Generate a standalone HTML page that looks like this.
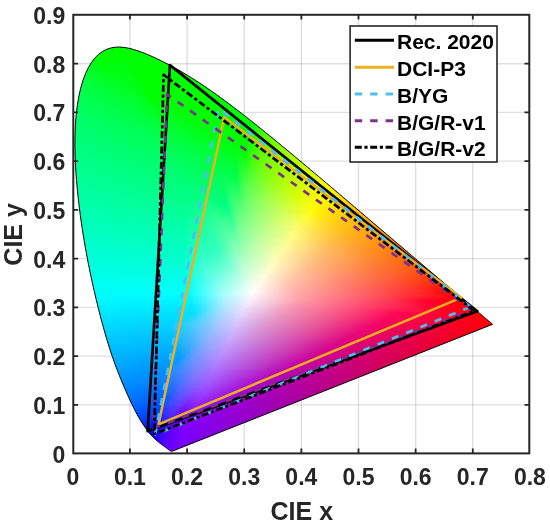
<!DOCTYPE html>
<html><head><meta charset="utf-8"><title>CIE 1931 chromaticity diagram</title>
<style>
html,body{margin:0;padding:0;background:#fff;}
svg{display:block;}
text{font-family:"Liberation Sans",Arial,Helvetica,sans-serif;font-weight:bold;}
</style></head><body>
<svg width="550" height="530" viewBox="0 0 550 530">
<defs>
<clipPath id="hs"><path d="M172.28 451.16 L172.28 451.15 L172.27 451.15 L172.26 451.15 L172.24 451.15 L172.22 451.16 L172.20 451.17 L172.18 451.19 L172.16 451.20 L172.13 451.21 L172.11 451.21 L172.09 451.21 L172.07 451.21 L172.05 451.21 L172.02 451.21 L172.00 451.21 L171.96 451.22 L171.93 451.23 L171.90 451.24 L171.86 451.25 L171.82 451.26 L171.79 451.27 L171.76 451.27 L171.72 451.27 L171.69 451.26 L171.65 451.26 L171.61 451.26 L171.57 451.26 L171.52 451.26 L171.47 451.26 L171.42 451.26 L171.37 451.26 L171.32 451.27 L171.26 451.27 L171.20 451.27 L171.14 451.26 L171.07 451.25 L171.00 451.22 L170.92 451.20 L170.84 451.16 L170.74 451.11 L170.63 451.06 L170.51 451.00 L170.38 450.93 L170.25 450.86 L170.11 450.77 L169.97 450.68 L169.82 450.59 L169.66 450.48 L169.49 450.36 L169.31 450.24 L169.11 450.10 L168.89 449.94 L168.66 449.78 L168.42 449.60 L168.17 449.41 L167.90 449.21 L167.63 448.99 L167.35 448.77 L167.05 448.53 L166.74 448.29 L166.41 448.03 L166.06 447.77 L165.68 447.49 L165.28 447.19 L164.85 446.87 L164.39 446.53 L163.90 446.17 L163.39 445.79 L162.85 445.39 L162.28 444.97 L161.70 444.54 L161.09 444.08 L160.45 443.60 L159.78 443.09 L159.08 442.54 L158.34 441.94 L157.57 441.30 L156.77 440.62 L155.94 439.89 L155.08 439.12 L154.20 438.31 L153.28 437.43 L152.32 436.46 L151.31 435.38 L150.22 434.15 L149.07 432.77 L147.84 431.21 L146.53 429.47 L145.16 427.54 L143.71 425.43 L142.20 423.11 L140.62 420.57 L138.96 417.77 L137.23 414.68 L135.43 411.29 L133.53 407.57 L131.55 403.48 L129.47 399.03 L127.28 394.18 L124.97 388.92 L122.54 383.23 L120.00 377.10 L117.39 370.49 L114.73 363.39 L112.06 355.78 L109.38 347.64 L106.71 338.96 L104.05 329.77 L101.39 320.05 L98.74 309.82 L96.10 299.08 L93.50 287.91 L90.97 276.37 L88.53 264.52 L86.23 252.45 L84.08 240.22 L82.12 227.90 L80.35 215.57 L78.80 203.31 L77.49 191.18 L76.42 179.27 L75.63 167.60 L75.12 156.22 L74.92 145.15 L75.03 134.45 L75.47 124.14 L76.26 114.28 L77.40 104.93 L78.89 96.13 L80.74 87.95 L82.96 80.44 L85.53 73.64 L88.41 67.57 L91.58 62.29 L95.03 57.83 L98.71 54.21 L102.61 51.38 L106.68 49.31 L110.91 47.94 L115.26 47.21 L119.69 47.07 L124.21 47.44 L128.78 48.26 L133.40 49.44 L138.05 50.91 L142.72 52.60 L147.39 54.46 L152.04 56.47 L156.64 58.60 L161.20 60.80 L165.68 63.06 L170.09 65.38 L174.45 67.74 L178.76 70.17 L183.02 72.65 L187.26 75.19 L191.47 77.80 L195.66 80.46 L199.83 83.18 L203.99 85.95 L208.15 88.78 L212.29 91.66 L216.43 94.59 L220.56 97.56 L224.68 100.58 L228.78 103.63 L232.88 106.72 L236.97 109.84 L241.05 112.99 L245.13 116.17 L249.21 119.38 L253.29 122.61 L257.37 125.87 L261.45 129.15 L265.53 132.45 L269.62 135.77 L273.72 139.11 L277.81 142.47 L281.90 145.84 L285.99 149.22 L290.07 152.61 L294.14 156.01 L298.21 159.41 L302.27 162.82 L306.33 166.23 L310.39 169.64 L314.45 173.04 L318.50 176.45 L322.54 179.85 L326.56 183.24 L330.56 186.63 L334.55 190.00 L338.52 193.37 L342.46 196.72 L346.39 200.05 L350.29 203.37 L354.17 206.67 L358.02 209.95 L361.85 213.20 L365.64 216.43 L369.41 219.63 L373.14 222.81 L376.83 225.95 L380.48 229.06 L384.10 232.13 L387.67 235.15 L391.20 238.14 L394.67 241.08 L398.10 243.98 L401.47 246.84 L404.78 249.66 L408.03 252.43 L411.20 255.14 L414.29 257.78 L417.30 260.35 L420.21 262.82 L423.03 265.22 L425.78 267.55 L428.45 269.82 L431.07 272.04 L433.63 274.22 L436.13 276.34 L438.56 278.41 L440.91 280.41 L443.18 282.33 L445.36 284.17 L447.45 285.93 L449.46 287.62 L451.39 289.25 L453.24 290.81 L455.01 292.32 L456.72 293.77 L458.35 295.16 L459.92 296.50 L461.41 297.78 L462.83 299.00 L464.20 300.16 L465.49 301.27 L466.74 302.33 L467.92 303.33 L469.06 304.29 L470.14 305.21 L471.18 306.08 L472.18 306.92 L473.12 307.72 L474.03 308.49 L474.89 309.23 L475.72 309.94 L476.52 310.62 L477.29 311.28 L478.04 311.92 L478.76 312.53 L479.46 313.13 L480.13 313.70 L480.78 314.25 L481.40 314.78 L481.99 315.29 L482.56 315.78 L483.11 316.25 L483.64 316.69 L484.14 317.11 L484.62 317.51 L485.08 317.89 L485.51 318.25 L485.92 318.59 L486.31 318.91 L486.67 319.22 L487.01 319.51 L487.33 319.79 L487.64 320.05 L487.93 320.30 L488.20 320.54 L488.47 320.76 L488.71 320.97 L488.95 321.17 L489.17 321.36 L489.38 321.54 L489.58 321.71 L489.76 321.86 L489.92 322.00 L490.07 322.13 L490.20 322.24 L490.32 322.35 L490.44 322.44 L490.55 322.54 L490.66 322.63 L490.77 322.72 L490.87 322.81 L490.97 322.90 L491.06 322.98 L491.15 323.05 L491.23 323.12 L491.31 323.19 L491.39 323.25 L491.46 323.32 L491.54 323.39 L491.62 323.45 L491.71 323.52 L491.79 323.59 L491.86 323.66 L491.94 323.72 L492.01 323.79 L492.08 323.84 L492.15 323.90 L492.21 323.95 L492.26 324.00 L492.31 324.04 L492.36 324.08 L492.40 324.12 L492.44 324.15 L492.47 324.17 L492.49 324.20 L492.52 324.21 L492.53 324.23 L492.55 324.24 L492.56 324.26 L492.58 324.27 L492.59 324.28 L492.60 324.28 L492.61 324.29 Z"/></clipPath>
<linearGradient id="g0"><stop offset="0.03571" stop-color="#0f0"/><stop offset="0.9643" stop-color="#0f0"/></linearGradient><linearGradient id="g1"><stop offset="0.01667" stop-color="#0f0"/><stop offset="0.9833" stop-color="#0f0"/></linearGradient><linearGradient id="g2"><stop offset="0.0125" stop-color="#0f0"/><stop offset="0.9875" stop-color="#0f0"/></linearGradient><linearGradient id="g3"><stop offset="0.01064" stop-color="#0f0"/><stop offset="0.9894" stop-color="#0f0"/></linearGradient><linearGradient id="g4"><stop offset="0.009091" stop-color="#0f0"/><stop offset="0.5" stop-color="#00ff03"/><stop offset="0.9909" stop-color="#0f0"/></linearGradient><linearGradient id="g5"><stop offset="0.008197" stop-color="#0f0"/><stop offset="0.4344" stop-color="#00ff05"/><stop offset="0.9918" stop-color="#0f0"/></linearGradient><linearGradient id="g6"><stop offset="0.007463" stop-color="#00ff05"/><stop offset="0.4701" stop-color="#00ff06"/><stop offset="0.7836" stop-color="#0f0"/><stop offset="0.9925" stop-color="#0f0"/></linearGradient><linearGradient id="g7"><stop offset="0.006849" stop-color="#0f1"/><stop offset="0.1027" stop-color="#00ff05"/><stop offset="0.4178" stop-color="#00ff09"/><stop offset="0.6644" stop-color="#0f0"/><stop offset="0.9932" stop-color="#0f0"/></linearGradient><linearGradient id="g8"><stop offset="0.00641" stop-color="#00ff18"/><stop offset="0.1218" stop-color="#00ff08"/><stop offset="0.4167" stop-color="#00ff0a"/><stop offset="0.6218" stop-color="#0f0"/><stop offset="0.9936" stop-color="#0f0"/></linearGradient><linearGradient id="g9"><stop offset="0.006098" stop-color="#00ff1e"/><stop offset="0.1402" stop-color="#00ff0a"/><stop offset="0.3841" stop-color="#00ff0c"/><stop offset="0.628" stop-color="#0f0"/><stop offset="0.9939" stop-color="#0f0"/></linearGradient><linearGradient id="g10"><stop offset="0.005682" stop-color="#00ff28"/><stop offset="0.1648" stop-color="#00ff0c"/><stop offset="0.3807" stop-color="#00ff0f"/><stop offset="0.5966" stop-color="#0f0"/><stop offset="0.9943" stop-color="#0f0"/></linearGradient><linearGradient id="g11"><stop offset="0.005376" stop-color="#00ff2c"/><stop offset="0.1882" stop-color="#00ff10"/><stop offset="0.3925" stop-color="#00ff0f"/><stop offset="0.586" stop-color="#0f0"/><stop offset="0.9946" stop-color="#0f0"/></linearGradient><linearGradient id="g12"><stop offset="0.005155" stop-color="#00ff30"/><stop offset="0.201" stop-color="#00ff12"/><stop offset="0.3969" stop-color="#00ff10"/><stop offset="0.5722" stop-color="#0f0"/><stop offset="0.9948" stop-color="#0f0"/></linearGradient><linearGradient id="g13"><stop offset="0.00495" stop-color="#0f3"/><stop offset="0.1634" stop-color="#00ff1a"/><stop offset="0.2228" stop-color="#00ff16"/><stop offset="0.4208" stop-color="#00ff10"/><stop offset="0.5495" stop-color="#0f0"/><stop offset="0.995" stop-color="#0f0"/></linearGradient><linearGradient id="g14"><stop offset="0.004762" stop-color="#00ff37"/><stop offset="0.1762" stop-color="#00ff1d"/><stop offset="0.2333" stop-color="#00ff18"/><stop offset="0.4238" stop-color="#00ff12"/><stop offset="0.5476" stop-color="#0f0"/><stop offset="0.9952" stop-color="#0f0"/></linearGradient><linearGradient id="g15"><stop offset="0.004587" stop-color="#00ff3a"/><stop offset="0.1789" stop-color="#00ff23"/><stop offset="0.2339" stop-color="#00ff1a"/><stop offset="0.3991" stop-color="#00ff15"/><stop offset="0.5459" stop-color="#0f0"/><stop offset="0.9954" stop-color="#0f0"/></linearGradient><linearGradient id="g16"><stop offset="0.004425" stop-color="#00ff3f"/><stop offset="0.1991" stop-color="#00ff23"/><stop offset="0.2522" stop-color="#00ff1d"/><stop offset="0.4292" stop-color="#00ff14"/><stop offset="0.5354" stop-color="#0f0"/><stop offset="0.9956" stop-color="#0f0"/></linearGradient><linearGradient id="g17"><stop offset="0.00431" stop-color="#00ff40"/><stop offset="0.2026" stop-color="#00ff26"/><stop offset="0.2543" stop-color="#00ff1f"/><stop offset="0.4009" stop-color="#00ff18"/><stop offset="0.5388" stop-color="#0f0"/><stop offset="0.9957" stop-color="#0f0"/></linearGradient><linearGradient id="g18"><stop offset="0.004167" stop-color="#00ff43"/><stop offset="0.2125" stop-color="#00ff2a"/><stop offset="0.2625" stop-color="#0f2"/><stop offset="0.4042" stop-color="#00ff1a"/><stop offset="0.5292" stop-color="#0f0"/><stop offset="0.9958" stop-color="#0f0"/></linearGradient><linearGradient id="g19"><stop offset="0.004032" stop-color="#00ff47"/><stop offset="0.2298" stop-color="#00ff2a"/><stop offset="0.4315" stop-color="#00ff18"/><stop offset="0.5282" stop-color="#0f0"/><stop offset="0.996" stop-color="#0f0"/></linearGradient><linearGradient id="g20"><stop offset="0.003937" stop-color="#00ff49"/><stop offset="0.2323" stop-color="#00ff2d"/><stop offset="0.4291" stop-color="#00ff19"/><stop offset="0.5236" stop-color="#0f0"/><stop offset="0.9961" stop-color="#0f0"/></linearGradient><linearGradient id="g21"><stop offset="0.003817" stop-color="#00ff4c"/><stop offset="0.2405" stop-color="#00ff30"/><stop offset="0.3244" stop-color="#00ff28"/><stop offset="0.4466" stop-color="#00ff16"/><stop offset="0.5229" stop-color="#0f0"/><stop offset="0.9962" stop-color="#0f0"/></linearGradient><linearGradient id="g22"><stop offset="0.003731" stop-color="#00ff4e"/><stop offset="0.2425" stop-color="#0f3"/><stop offset="0.4291" stop-color="#00ff1b"/><stop offset="0.5187" stop-color="#0f0"/><stop offset="0.9963" stop-color="#0f0"/></linearGradient><linearGradient id="g23"><stop offset="0.003623" stop-color="#00ff51"/><stop offset="0.2572" stop-color="#00ff34"/><stop offset="0.4239" stop-color="#00ff1e"/><stop offset="0.5181" stop-color="#0f0"/><stop offset="0.9964" stop-color="#0f0"/></linearGradient><linearGradient id="g24"><stop offset="0.003546" stop-color="#00ff52"/><stop offset="0.2589" stop-color="#00ff37"/><stop offset="0.422" stop-color="#00ff1f"/><stop offset="0.5142" stop-color="#0f0"/><stop offset="0.9965" stop-color="#0f0"/></linearGradient><linearGradient id="g25"><stop offset="0.003472" stop-color="#00ff54"/><stop offset="0.2674" stop-color="#00ff37"/><stop offset="0.4062" stop-color="#00ff25"/><stop offset="0.5104" stop-color="#00ff01"/><stop offset="0.9965" stop-color="#0f0"/></linearGradient><linearGradient id="g26"><stop offset="0.003401" stop-color="#00ff57"/><stop offset="0.3776" stop-color="#00ff2e"/><stop offset="0.4728" stop-color="#00ff12"/><stop offset="0.5136" stop-color="#00ff03"/><stop offset="0.9966" stop-color="#0f0"/></linearGradient><linearGradient id="g27"><stop offset="0.003333" stop-color="#00ff59"/><stop offset="0.3767" stop-color="#00ff30"/><stop offset="0.4767" stop-color="#00ff12"/><stop offset="0.5167" stop-color="#00ff06"/><stop offset="0.73" stop-color="#0f0"/><stop offset="0.9967" stop-color="#0f0"/></linearGradient><linearGradient id="g28"><stop offset="0.003268" stop-color="#00ff5b"/><stop offset="0.3758" stop-color="#00ff32"/><stop offset="0.4739" stop-color="#00ff15"/><stop offset="0.5131" stop-color="#00ff0a"/><stop offset="0.6895" stop-color="#0f0"/><stop offset="0.9967" stop-color="#0f0"/></linearGradient><linearGradient id="g29"><stop offset="0.003205" stop-color="#00ff5d"/><stop offset="0.375" stop-color="#00ff36"/><stop offset="0.4712" stop-color="#00ff1a"/><stop offset="0.5096" stop-color="#00ff0d"/><stop offset="0.6891" stop-color="#0f0"/><stop offset="0.9968" stop-color="#0f0"/></linearGradient><linearGradient id="g30"><stop offset="0.003145" stop-color="#00ff5f"/><stop offset="0.3679" stop-color="#00ff39"/><stop offset="0.4686" stop-color="#00ff1d"/><stop offset="0.5063" stop-color="#00ff10"/><stop offset="0.695" stop-color="#0f0"/><stop offset="0.9969" stop-color="#0f0"/></linearGradient><linearGradient id="g31"><stop offset="0.003086" stop-color="#00ff60"/><stop offset="0.3673" stop-color="#00ff3b"/><stop offset="0.466" stop-color="#00ff20"/><stop offset="0.5093" stop-color="#00ff13"/><stop offset="0.7006" stop-color="#0f0"/><stop offset="0.9969" stop-color="#0f0"/></linearGradient><linearGradient id="g32"><stop offset="0.003049" stop-color="#00ff62"/><stop offset="0.3689" stop-color="#00ff3d"/><stop offset="0.4726" stop-color="#00ff20"/><stop offset="0.5152" stop-color="#00ff16"/><stop offset="0.7104" stop-color="#0f0"/><stop offset="0.997" stop-color="#0f0"/></linearGradient><linearGradient id="g33"><stop offset="0.002976" stop-color="#00ff64"/><stop offset="0.372" stop-color="#00ff3f"/><stop offset="0.4732" stop-color="#00ff23"/><stop offset="0.5149" stop-color="#00ff19"/><stop offset="0.7173" stop-color="#0f0"/><stop offset="0.997" stop-color="#0f0"/></linearGradient><linearGradient id="g34"><stop offset="0.002941" stop-color="#0f6"/><stop offset="0.3735" stop-color="#00ff41"/><stop offset="0.4794" stop-color="#00ff24"/><stop offset="0.5559" stop-color="#00ff18"/><stop offset="0.7265" stop-color="#0f0"/><stop offset="0.9971" stop-color="#0f0"/></linearGradient><linearGradient id="g35"><stop offset="0.00289" stop-color="#00ff68"/><stop offset="0.3728" stop-color="#00ff43"/><stop offset="0.4769" stop-color="#00ff27"/><stop offset="0.7312" stop-color="#0f0"/><stop offset="0.9971" stop-color="#0f0"/></linearGradient><linearGradient id="g36"><stop offset="0.002857" stop-color="#00ff6a"/><stop offset="0.3743" stop-color="#00ff45"/><stop offset="0.4771" stop-color="#00ff2b"/><stop offset="0.74" stop-color="#0f0"/><stop offset="0.9971" stop-color="#0f0"/></linearGradient><linearGradient id="g37"><stop offset="0.002809" stop-color="#00ff6b"/><stop offset="0.3736" stop-color="#00ff47"/><stop offset="0.4747" stop-color="#00ff2e"/><stop offset="0.7444" stop-color="#0f0"/><stop offset="0.9972" stop-color="#0f0"/></linearGradient><linearGradient id="g38"><stop offset="0.002762" stop-color="#00ff6e"/><stop offset="0.384" stop-color="#00ff48"/><stop offset="0.4834" stop-color="#00ff2d"/><stop offset="0.7597" stop-color="#0f0"/><stop offset="0.9641" stop-color="#0f0"/><stop offset="0.9972" stop-color="#03ff00"/></linearGradient><linearGradient id="g39"><stop offset="0.002717" stop-color="#00ff6f"/><stop offset="0.3777" stop-color="#00ff4b"/><stop offset="0.5245" stop-color="#00ff2a"/><stop offset="0.7582" stop-color="#0f0"/><stop offset="0.9484" stop-color="#0f0"/><stop offset="0.9592" stop-color="#06ff00"/><stop offset="0.9755" stop-color="#06ff00"/><stop offset="0.9918" stop-color="#16ff00"/><stop offset="0.9973" stop-color="#16ff00"/></linearGradient><linearGradient id="g40"><stop offset="0.002688" stop-color="#00ff71"/><stop offset="0.3844" stop-color="#00ff4c"/><stop offset="0.5349" stop-color="#00ff2c"/><stop offset="0.7661" stop-color="#0f0"/><stop offset="0.9382" stop-color="#0f0"/><stop offset="0.9435" stop-color="#09ff00"/><stop offset="0.9651" stop-color="#0aff00"/><stop offset="0.9919" stop-color="#27ff00"/><stop offset="0.9973" stop-color="#27ff00"/></linearGradient><linearGradient id="g41"><stop offset="0.002646" stop-color="#00ff72"/><stop offset="0.3836" stop-color="#00ff4e"/><stop offset="0.5635" stop-color="#00ff29"/><stop offset="0.7698" stop-color="#0f0"/><stop offset="0.9233" stop-color="#02ff00"/><stop offset="0.9286" stop-color="#0cff00"/><stop offset="0.9444" stop-color="#09ff00"/><stop offset="0.9921" stop-color="#3fff00"/><stop offset="0.9974" stop-color="#3fff00"/></linearGradient><linearGradient id="g42"><stop offset="0.002618" stop-color="#00ff74"/><stop offset="0.3848" stop-color="#00ff50"/><stop offset="0.7775" stop-color="#0f0"/><stop offset="0.9136" stop-color="#04ff00"/><stop offset="0.9188" stop-color="#0eff00"/><stop offset="0.9346" stop-color="#0cff00"/><stop offset="0.9921" stop-color="#49ff00"/><stop offset="0.9974" stop-color="#49ff00"/></linearGradient><linearGradient id="g43"><stop offset="0.002577" stop-color="#00ff75"/><stop offset="0.3892" stop-color="#00ff51"/><stop offset="0.7448" stop-color="#00ff05"/><stop offset="0.8943" stop-color="#0f0"/><stop offset="0.9046" stop-color="#1f0"/><stop offset="0.9201" stop-color="#1f0"/><stop offset="0.9768" stop-color="#4bff00"/><stop offset="0.9974" stop-color="#57ff00"/></linearGradient><linearGradient id="g44"><stop offset="0.002551" stop-color="#0f7"/><stop offset="0.3903" stop-color="#00ff53"/><stop offset="0.7372" stop-color="#00ff09"/><stop offset="0.7985" stop-color="#0f0"/><stop offset="0.8852" stop-color="#0f0"/><stop offset="0.8954" stop-color="#13ff00"/><stop offset="0.9107" stop-color="#15ff00"/><stop offset="0.9617" stop-color="#4aff00"/><stop offset="0.9974" stop-color="#60ff00"/></linearGradient><linearGradient id="g45"><stop offset="0.002513" stop-color="#00ff79"/><stop offset="0.3894" stop-color="#00ff54"/><stop offset="0.7211" stop-color="#00ff0e"/><stop offset="0.7864" stop-color="#0f0"/><stop offset="0.8719" stop-color="#0f0"/><stop offset="0.8819" stop-color="#16ff00"/><stop offset="0.897" stop-color="#19ff00"/><stop offset="0.9523" stop-color="#51ff00"/><stop offset="0.9975" stop-color="#6aff00"/></linearGradient><linearGradient id="g46"><stop offset="0.002488" stop-color="#00ff7a"/><stop offset="0.3955" stop-color="#0f5"/><stop offset="0.709" stop-color="#00ff14"/><stop offset="0.7935" stop-color="#0f0"/><stop offset="0.8632" stop-color="#0f0"/><stop offset="0.8731" stop-color="#18ff00"/><stop offset="0.8831" stop-color="#17ff00"/><stop offset="0.9378" stop-color="#50ff00"/><stop offset="0.9975" stop-color="#72ff00"/></linearGradient><linearGradient id="g47"><stop offset="0.002451" stop-color="#00ff7c"/><stop offset="0.3995" stop-color="#00ff57"/><stop offset="0.6887" stop-color="#00ff1b"/><stop offset="0.7917" stop-color="#0f0"/><stop offset="0.8505" stop-color="#02ff00"/><stop offset="0.8603" stop-color="#1bff00"/><stop offset="0.875" stop-color="#21ff00"/><stop offset="0.924" stop-color="#52ff00"/><stop offset="0.9975" stop-color="#7bff00"/></linearGradient><linearGradient id="g48"><stop offset="0.002427" stop-color="#00ff7d"/><stop offset="0.4102" stop-color="#00ff57"/><stop offset="0.682" stop-color="#00ff1f"/><stop offset="0.7985" stop-color="#0f0"/><stop offset="0.8422" stop-color="#04ff00"/><stop offset="0.8519" stop-color="#1dff00"/><stop offset="0.8665" stop-color="#25ff00"/><stop offset="0.9199" stop-color="#59ff00"/><stop offset="0.9976" stop-color="#81ff00"/></linearGradient><linearGradient id="g49"><stop offset="0.002392" stop-color="#00ff7f"/><stop offset="0.4091" stop-color="#00ff59"/><stop offset="0.6483" stop-color="#00ff29"/><stop offset="0.7967" stop-color="#0f0"/><stop offset="0.8254" stop-color="#0f0"/><stop offset="0.8397" stop-color="#1fff00"/><stop offset="0.8541" stop-color="#29ff00"/><stop offset="0.9019" stop-color="#58ff00"/><stop offset="0.9928" stop-color="#8aff00"/><stop offset="0.9976" stop-color="#8aff00"/></linearGradient><linearGradient id="g50"><stop offset="0.00237" stop-color="#00ff80"/><stop offset="0.4194" stop-color="#00ff5a"/><stop offset="0.6327" stop-color="#00ff30"/><stop offset="0.8033" stop-color="#0f0"/><stop offset="0.8175" stop-color="#0f0"/><stop offset="0.8318" stop-color="#21ff00"/><stop offset="0.846" stop-color="#2dff00"/><stop offset="0.8934" stop-color="#5bff00"/><stop offset="0.9929" stop-color="#90ff00"/><stop offset="0.9976" stop-color="#90ff00"/></linearGradient><linearGradient id="g51"><stop offset="0.002347" stop-color="#00ff82"/><stop offset="0.4202" stop-color="#00ff5c"/><stop offset="0.6221" stop-color="#00ff35"/><stop offset="0.7629" stop-color="#00ff0b"/><stop offset="0.7723" stop-color="#04ff08"/><stop offset="0.8099" stop-color="#0f0"/><stop offset="0.8239" stop-color="#23ff00"/><stop offset="0.885" stop-color="#5dff00"/><stop offset="0.993" stop-color="#96ff00"/><stop offset="0.9977" stop-color="#96ff00"/></linearGradient><linearGradient id="g52"><stop offset="0.002315" stop-color="#00ff84"/><stop offset="0.419" stop-color="#00ff5e"/><stop offset="0.6227" stop-color="#00ff37"/><stop offset="0.7523" stop-color="#00ff10"/><stop offset="0.7569" stop-color="#08ff0e"/><stop offset="0.7986" stop-color="#01ff00"/><stop offset="0.8125" stop-color="#26ff00"/><stop offset="0.8681" stop-color="#5cff00"/><stop offset="0.9792" stop-color="#97ff00"/><stop offset="0.9977" stop-color="#9dff00"/></linearGradient><linearGradient id="g53"><stop offset="0.002294" stop-color="#00ff85"/><stop offset="0.4243" stop-color="#00ff5f"/><stop offset="0.6261" stop-color="#00ff38"/><stop offset="0.7454" stop-color="#00ff14"/><stop offset="0.75" stop-color="#0aff13"/><stop offset="0.7913" stop-color="#04ff03"/><stop offset="0.805" stop-color="#28ff00"/><stop offset="0.8509" stop-color="#57ff00"/><stop offset="0.9472" stop-color="#8fff00"/><stop offset="0.9977" stop-color="#a3ff00"/></linearGradient><linearGradient id="g54"><stop offset="0.002262" stop-color="#00ff87"/><stop offset="0.4231" stop-color="#00ff61"/><stop offset="0.6312" stop-color="#00ff39"/><stop offset="0.7353" stop-color="#00ff19"/><stop offset="0.7443" stop-color="#0bff16"/><stop offset="0.7805" stop-color="#09ff08"/><stop offset="0.7986" stop-color="#31ff01"/><stop offset="0.8484" stop-color="#61ff00"/><stop offset="0.9661" stop-color="#9eff00"/><stop offset="0.9977" stop-color="#af0"/></linearGradient><linearGradient id="g55"><stop offset="0.002242" stop-color="#0f8"/><stop offset="0.4238" stop-color="#00ff63"/><stop offset="0.6345" stop-color="#00ff3a"/><stop offset="0.7287" stop-color="#00ff1d"/><stop offset="0.7377" stop-color="#0eff1a"/><stop offset="0.7735" stop-color="#0eff0d"/><stop offset="0.787" stop-color="#2fff07"/><stop offset="0.8229" stop-color="#56ff00"/><stop offset="0.9215" stop-color="#91ff00"/><stop offset="0.9978" stop-color="#afff00"/></linearGradient><linearGradient id="g56"><stop offset="0.002222" stop-color="#00ff8a"/><stop offset="0.4244" stop-color="#00ff64"/><stop offset="0.6422" stop-color="#00ff3b"/><stop offset="0.7222" stop-color="#0f2"/><stop offset="0.7311" stop-color="#10ff1f"/><stop offset="0.7667" stop-color="#13ff11"/><stop offset="0.7844" stop-color="#38ff0a"/><stop offset="0.8244" stop-color="#5fff00"/><stop offset="0.9356" stop-color="#9cff00"/><stop offset="0.9978" stop-color="#b5ff00"/></linearGradient><linearGradient id="g57"><stop offset="0.002193" stop-color="#00ff8b"/><stop offset="0.4232" stop-color="#0f6"/><stop offset="0.6469" stop-color="#00ff3b"/><stop offset="0.7127" stop-color="#00ff26"/><stop offset="0.7171" stop-color="#05ff25"/><stop offset="0.7215" stop-color="#13ff23"/><stop offset="0.7566" stop-color="#17ff16"/><stop offset="0.7741" stop-color="#3bff0f"/><stop offset="0.818" stop-color="#65ff00"/><stop offset="0.9364" stop-color="#a4ff00"/><stop offset="0.9978" stop-color="#bf0"/></linearGradient><linearGradient id="g58"><stop offset="0.002174" stop-color="#00ff8d"/><stop offset="0.4283" stop-color="#00ff67"/><stop offset="0.65" stop-color="#00ff3d"/><stop offset="0.7109" stop-color="#04ff29"/><stop offset="0.7152" stop-color="#15ff28"/><stop offset="0.7413" stop-color="#1dff1e"/><stop offset="0.75" stop-color="#1cff1b"/><stop offset="0.7674" stop-color="#3fff14"/><stop offset="0.8109" stop-color="#68ff01"/><stop offset="0.9326" stop-color="#a8ff00"/><stop offset="0.9978" stop-color="#c1ff00"/></linearGradient><linearGradient id="g59"><stop offset="0.002146" stop-color="#00ff8e"/><stop offset="0.4227" stop-color="#00ff6a"/><stop offset="0.6545" stop-color="#00ff3d"/><stop offset="0.7017" stop-color="#03ff2e"/><stop offset="0.706" stop-color="#14ff2c"/><stop offset="0.7232" stop-color="#1eff26"/><stop offset="0.7403" stop-color="#21ff1f"/><stop offset="0.7575" stop-color="#42ff18"/><stop offset="0.8004" stop-color="#6aff05"/><stop offset="0.8605" stop-color="#8dff00"/><stop offset="0.9979" stop-color="#c7ff00"/></linearGradient><linearGradient id="g60"><stop offset="0.002137" stop-color="#00ff90"/><stop offset="0.4295" stop-color="#00ff6a"/><stop offset="0.656" stop-color="#00ff3f"/><stop offset="0.6944" stop-color="#01ff32"/><stop offset="0.6987" stop-color="#13ff31"/><stop offset="0.7115" stop-color="#23ff2c"/><stop offset="0.7329" stop-color="#26ff24"/><stop offset="0.75" stop-color="#45ff1d"/><stop offset="0.797" stop-color="#6fff08"/><stop offset="0.8355" stop-color="#86ff00"/><stop offset="0.9979" stop-color="#cdff00"/></linearGradient><linearGradient id="g61"><stop offset="0.002119" stop-color="#00ff91"/><stop offset="0.4301" stop-color="#00ff6c"/><stop offset="0.6631" stop-color="#00ff3f"/><stop offset="0.6886" stop-color="#00ff36"/><stop offset="0.697" stop-color="#1bff34"/><stop offset="0.7182" stop-color="#2bff2c"/><stop offset="0.7267" stop-color="#2bff29"/><stop offset="0.7394" stop-color="#43ff24"/><stop offset="0.7818" stop-color="#6cff11"/><stop offset="0.8284" stop-color="#8f0"/><stop offset="0.9936" stop-color="#d2ff00"/><stop offset="0.9979" stop-color="#d2ff00"/></linearGradient><linearGradient id="g62"><stop offset="0.002092" stop-color="#00ff93"/><stop offset="0.4289" stop-color="#00ff6e"/><stop offset="0.6632" stop-color="#00ff41"/><stop offset="0.6799" stop-color="#00ff3b"/><stop offset="0.6883" stop-color="#1eff38"/><stop offset="0.7092" stop-color="#30ff31"/><stop offset="0.7176" stop-color="#30ff2d"/><stop offset="0.7301" stop-color="#47ff28"/><stop offset="0.7762" stop-color="#71ff14"/><stop offset="0.8264" stop-color="#8fff00"/><stop offset="0.9979" stop-color="#d8ff00"/></linearGradient><linearGradient id="g63"><stop offset="0.002075" stop-color="#00ff94"/><stop offset="0.4295" stop-color="#00ff70"/><stop offset="0.6079" stop-color="#01ff51"/><stop offset="0.6328" stop-color="#02ff4c"/><stop offset="0.6743" stop-color="#00ff3f"/><stop offset="0.6826" stop-color="#20ff3d"/><stop offset="0.7033" stop-color="#34ff35"/><stop offset="0.7158" stop-color="#3bff30"/><stop offset="0.7241" stop-color="#4aff2d"/><stop offset="0.7697" stop-color="#73ff19"/><stop offset="0.832" stop-color="#97ff00"/><stop offset="0.9979" stop-color="#deff00"/></linearGradient><linearGradient id="g64"><stop offset="0.002058" stop-color="#00ff96"/><stop offset="0.4342" stop-color="#00ff71"/><stop offset="0.6029" stop-color="#01ff54"/><stop offset="0.6152" stop-color="#08ff52"/><stop offset="0.6687" stop-color="#0f4"/><stop offset="0.677" stop-color="#1fff41"/><stop offset="0.6975" stop-color="#38ff3a"/><stop offset="0.7099" stop-color="#3fff35"/><stop offset="0.7181" stop-color="#4dff32"/><stop offset="0.7675" stop-color="#78ff1d"/><stop offset="0.8333" stop-color="#9eff00"/><stop offset="0.9979" stop-color="#e3ff00"/></linearGradient><linearGradient id="g65"><stop offset="0.002033" stop-color="#00ff97"/><stop offset="0.4329" stop-color="#00ff73"/><stop offset="0.5996" stop-color="#02ff56"/><stop offset="0.6118" stop-color="#0bff54"/><stop offset="0.6606" stop-color="#00ff48"/><stop offset="0.6687" stop-color="#1eff46"/><stop offset="0.685" stop-color="#37ff40"/><stop offset="0.7012" stop-color="#44ff3a"/><stop offset="0.7175" stop-color="#5bff33"/><stop offset="0.7988" stop-color="#93ff0e"/><stop offset="0.8354" stop-color="#a6ff00"/><stop offset="0.998" stop-color="#e9ff00"/></linearGradient><linearGradient id="g66"><stop offset="0.002016" stop-color="#0f9"/><stop offset="0.4335" stop-color="#00ff74"/><stop offset="0.5948" stop-color="#02ff59"/><stop offset="0.5988" stop-color="#0bff58"/><stop offset="0.6351" stop-color="#09ff51"/><stop offset="0.6552" stop-color="#00ff4d"/><stop offset="0.6673" stop-color="#28ff49"/><stop offset="0.6835" stop-color="#3fff43"/><stop offset="0.6956" stop-color="#48ff3f"/><stop offset="0.7198" stop-color="#65ff35"/><stop offset="0.8125" stop-color="#9fff08"/><stop offset="0.8448" stop-color="#afff00"/><stop offset="0.998" stop-color="#efff00"/></linearGradient><linearGradient id="g67"><stop offset="0.001992" stop-color="#00ff9a"/><stop offset="0.4243" stop-color="#0f7"/><stop offset="0.5876" stop-color="#02ff5c"/><stop offset="0.6036" stop-color="#10ff59"/><stop offset="0.6434" stop-color="#08ff51"/><stop offset="0.6474" stop-color="#06ff50"/><stop offset="0.6514" stop-color="#0cff4f"/><stop offset="0.6594" stop-color="#2bff4d"/><stop offset="0.6753" stop-color="#43ff48"/><stop offset="0.7351" stop-color="#7aff2f"/><stop offset="0.8347" stop-color="#b1ff00"/><stop offset="0.998" stop-color="#f5ff00"/></linearGradient><linearGradient id="g68"><stop offset="0.001984" stop-color="#00ff9c"/><stop offset="0.4345" stop-color="#0f7"/><stop offset="0.5853" stop-color="#03ff5e"/><stop offset="0.5893" stop-color="#0fff5e"/><stop offset="0.621" stop-color="#14ff57"/><stop offset="0.6448" stop-color="#0eff52"/><stop offset="0.6528" stop-color="#2dff51"/><stop offset="0.6726" stop-color="#4aff4b"/><stop offset="0.7321" stop-color="#7fff33"/><stop offset="0.8353" stop-color="#b7ff00"/><stop offset="0.998" stop-color="#fbff00"/></linearGradient><linearGradient id="g69"><stop offset="0.001969" stop-color="#00ff9d"/><stop offset="0.435" stop-color="#00ff79"/><stop offset="0.5807" stop-color="#03ff61"/><stop offset="0.5925" stop-color="#14ff5f"/><stop offset="0.624" stop-color="#17ff59"/><stop offset="0.6398" stop-color="#11ff56"/><stop offset="0.6476" stop-color="#30ff54"/><stop offset="0.6713" stop-color="#53ff4e"/><stop offset="0.7382" stop-color="#89ff32"/><stop offset="0.8406" stop-color="#bfff00"/><stop offset="0.998" stop-color="#fdfc00"/></linearGradient><linearGradient id="g70"><stop offset="0.001946" stop-color="#00ff9f"/><stop offset="0.4339" stop-color="#00ff7b"/><stop offset="0.5778" stop-color="#03ff64"/><stop offset="0.5817" stop-color="#13ff63"/><stop offset="0.6128" stop-color="#1cff5d"/><stop offset="0.6323" stop-color="#16ff59"/><stop offset="0.6401" stop-color="#33ff57"/><stop offset="0.6634" stop-color="#56ff52"/><stop offset="0.7412" stop-color="#92ff32"/><stop offset="0.8385" stop-color="#c4ff00"/><stop offset="0.9825" stop-color="#fefb00"/><stop offset="0.9981" stop-color="#fff700"/></linearGradient><linearGradient id="g71"><stop offset="0.001931" stop-color="#00ffa1"/><stop offset="0.4344" stop-color="#00ff7d"/><stop offset="0.5734" stop-color="#04ff67"/><stop offset="0.5849" stop-color="#1bff64"/><stop offset="0.6158" stop-color="#20ff5e"/><stop offset="0.6274" stop-color="#1cff5c"/><stop offset="0.639" stop-color="#3dff59"/><stop offset="0.6699" stop-color="#65ff53"/><stop offset="0.7625" stop-color="#a4ff2a"/><stop offset="0.8398" stop-color="#caff00"/><stop offset="0.971" stop-color="#fefb00"/><stop offset="0.9981" stop-color="#fff200"/></linearGradient><linearGradient id="g72"><stop offset="0.001916" stop-color="#00ffa2"/><stop offset="0.4349" stop-color="#00ff7f"/><stop offset="0.569" stop-color="#03ff6a"/><stop offset="0.5728" stop-color="#05ff69"/><stop offset="0.5766" stop-color="#17ff68"/><stop offset="0.6034" stop-color="#26ff63"/><stop offset="0.6226" stop-color="#22ff5f"/><stop offset="0.6264" stop-color="#27ff5e"/><stop offset="0.6341" stop-color="#40ff5d"/><stop offset="0.6609" stop-color="#64ff57"/><stop offset="0.749" stop-color="#a1ff33"/><stop offset="0.8448" stop-color="#d1ff00"/><stop offset="0.9559" stop-color="#fefb00"/><stop offset="0.9981" stop-color="#fe0"/></linearGradient><linearGradient id="g73"><stop offset="0.001901" stop-color="#00ffa3"/><stop offset="0.4354" stop-color="#00ff80"/><stop offset="0.5608" stop-color="#01ff6d"/><stop offset="0.5646" stop-color="#04ff6c"/><stop offset="0.576" stop-color="#21ff6a"/><stop offset="0.6103" stop-color="#2bff63"/><stop offset="0.6179" stop-color="#2aff61"/><stop offset="0.6255" stop-color="#43ff60"/><stop offset="0.6521" stop-color="#66ff5a"/><stop offset="0.7319" stop-color="#9fff3c"/><stop offset="0.8422" stop-color="#d7ff00"/><stop offset="0.9411" stop-color="#fefb00"/><stop offset="0.9981" stop-color="#ffe700"/></linearGradient><linearGradient id="g74"><stop offset="0.001887" stop-color="#00ffa5"/><stop offset="0.4358" stop-color="#00ff82"/><stop offset="0.5604" stop-color="#04ff6f"/><stop offset="0.5642" stop-color="#08ff6e"/><stop offset="0.5679" stop-color="#1bff6d"/><stop offset="0.5868" stop-color="#2eff6a"/><stop offset="0.6132" stop-color="#2eff64"/><stop offset="0.6245" stop-color="#4dff62"/><stop offset="0.6623" stop-color="#76ff5a"/><stop offset="0.7491" stop-color="#aeff36"/><stop offset="0.8434" stop-color="#df0"/><stop offset="0.9302" stop-color="#fefb00"/><stop offset="0.9981" stop-color="#ffe300"/></linearGradient><linearGradient id="g75"><stop offset="0.001873" stop-color="#00ffa7"/><stop offset="0.4401" stop-color="#02ff83"/><stop offset="0.5562" stop-color="#02ff72"/><stop offset="0.5599" stop-color="#05ff71"/><stop offset="0.5637" stop-color="#15ff70"/><stop offset="0.5712" stop-color="#27ff6f"/><stop offset="0.5974" stop-color="#35ff6a"/><stop offset="0.6086" stop-color="#34ff68"/><stop offset="0.6199" stop-color="#50ff65"/><stop offset="0.6573" stop-color="#78ff5d"/><stop offset="0.7247" stop-color="#a5ff45"/><stop offset="0.8483" stop-color="#e4ff00"/><stop offset="0.9195" stop-color="#fffa00"/><stop offset="0.9981" stop-color="#ffde00"/></linearGradient><linearGradient id="g76"><stop offset="0.001852" stop-color="#00ffa8"/><stop offset="0.4352" stop-color="#04ff86"/><stop offset="0.4944" stop-color="#03ff7e"/><stop offset="0.55" stop-color="#00ff75"/><stop offset="0.5574" stop-color="#0cff73"/><stop offset="0.5611" stop-color="#1eff73"/><stop offset="0.5759" stop-color="#32ff70"/><stop offset="0.5981" stop-color="#3bff6b"/><stop offset="0.6019" stop-color="#39ff6b"/><stop offset="0.613" stop-color="#53ff68"/><stop offset="0.6463" stop-color="#78ff61"/><stop offset="0.7167" stop-color="#a8ff4b"/><stop offset="0.8463" stop-color="#eaff00"/><stop offset="0.9056" stop-color="#fffa00"/><stop offset="0.9981" stop-color="#ffd900"/></linearGradient><linearGradient id="g77"><stop offset="0.001838" stop-color="#00ffa9"/><stop offset="0.4246" stop-color="#04ff89"/><stop offset="0.4871" stop-color="#09ff81"/><stop offset="0.5423" stop-color="#00ff78"/><stop offset="0.5533" stop-color="#06ff76"/><stop offset="0.557" stop-color="#1aff76"/><stop offset="0.568" stop-color="#31ff74"/><stop offset="0.5938" stop-color="#41ff6f"/><stop offset="0.6011" stop-color="#42ff6d"/><stop offset="0.6048" stop-color="#52ff6c"/><stop offset="0.6415" stop-color="#7aff65"/><stop offset="0.7114" stop-color="#aaff51"/><stop offset="0.8511" stop-color="#f1ff00"/><stop offset="0.9026" stop-color="#fff600"/><stop offset="0.9982" stop-color="#ffd500"/></linearGradient><linearGradient id="g78"><stop offset="0.001832" stop-color="#00ffab"/><stop offset="0.4121" stop-color="#04ff8c"/><stop offset="0.4817" stop-color="#0eff84"/><stop offset="0.5403" stop-color="#00ff7b"/><stop offset="0.5476" stop-color="#05ff79"/><stop offset="0.5586" stop-color="#2cff77"/><stop offset="0.5769" stop-color="#42ff74"/><stop offset="0.5952" stop-color="#47ff70"/><stop offset="0.5989" stop-color="#54ff6f"/><stop offset="0.6355" stop-color="#7dff68"/><stop offset="0.7125" stop-color="#b0ff53"/><stop offset="0.8516" stop-color="#f7ff00"/><stop offset="0.9066" stop-color="#fff000"/><stop offset="0.9982" stop-color="#ffd000"/></linearGradient><linearGradient id="g79"><stop offset="0.001812" stop-color="#00ffad"/><stop offset="0.404" stop-color="#04ff8f"/><stop offset="0.4801" stop-color="#12ff86"/><stop offset="0.538" stop-color="#00ff7d"/><stop offset="0.5453" stop-color="#08ff7c"/><stop offset="0.5489" stop-color="#1eff7b"/><stop offset="0.5598" stop-color="#39ff79"/><stop offset="0.5851" stop-color="#4cff74"/><stop offset="0.5888" stop-color="#4cff73"/><stop offset="0.6033" stop-color="#66ff70"/><stop offset="0.6649" stop-color="#9aff63"/><stop offset="0.7228" stop-color="#bdff4f"/><stop offset="0.8496" stop-color="#fcfe00"/><stop offset="0.9982" stop-color="#ffcb00"/></linearGradient><linearGradient id="g80"><stop offset="0.001799" stop-color="#00ffae"/><stop offset="0.3975" stop-color="#04ff91"/><stop offset="0.4802" stop-color="#17ff88"/><stop offset="0.5306" stop-color="#05ff80"/><stop offset="0.5414" stop-color="#05ff7e"/><stop offset="0.5486" stop-color="#27ff7d"/><stop offset="0.5629" stop-color="#45ff7b"/><stop offset="0.5845" stop-color="#52ff76"/><stop offset="0.6025" stop-color="#6eff73"/><stop offset="0.6817" stop-color="#aaff62"/><stop offset="0.7464" stop-color="#cfff45"/><stop offset="0.8507" stop-color="#fefb00"/><stop offset="0.9802" stop-color="#ffcc02"/><stop offset="0.9982" stop-color="#ffc700"/></linearGradient><linearGradient id="g81"><stop offset="0.001779" stop-color="#00ffb0"/><stop offset="0.3897" stop-color="#04ff94"/><stop offset="0.4822" stop-color="#1bff8a"/><stop offset="0.5356" stop-color="#08ff81"/><stop offset="0.5391" stop-color="#0dff81"/><stop offset="0.5427" stop-color="#23ff80"/><stop offset="0.5534" stop-color="#41ff7e"/><stop offset="0.5747" stop-color="#57ff7a"/><stop offset="0.5819" stop-color="#5bff79"/><stop offset="0.6032" stop-color="#78ff75"/><stop offset="0.6957" stop-color="#b9ff61"/><stop offset="0.8096" stop-color="#f5ff1c"/><stop offset="0.8523" stop-color="#fff500"/><stop offset="0.9591" stop-color="#ffcd04"/><stop offset="0.9982" stop-color="#ffc200"/></linearGradient><linearGradient id="g82"><stop offset="0.001773" stop-color="#00ffb1"/><stop offset="0.3812" stop-color="#04ff97"/><stop offset="0.4805" stop-color="#1fff8c"/><stop offset="0.5337" stop-color="#10ff84"/><stop offset="0.5443" stop-color="#3aff82"/><stop offset="0.5621" stop-color="#56ff7f"/><stop offset="0.5762" stop-color="#5fff7c"/><stop offset="0.6046" stop-color="#81ff76"/><stop offset="0.7145" stop-color="#c9ff5b"/><stop offset="0.8245" stop-color="#fefb13"/><stop offset="0.8528" stop-color="#ffef00"/><stop offset="0.9415" stop-color="#ffcf07"/><stop offset="0.9982" stop-color="#ffbe00"/></linearGradient><linearGradient id="g83"><stop offset="0.001761" stop-color="#00ffb3"/><stop offset="0.375" stop-color="#03ff99"/><stop offset="0.4842" stop-color="#24ff8d"/><stop offset="0.5299" stop-color="#16ff86"/><stop offset="0.5335" stop-color="#1aff86"/><stop offset="0.537" stop-color="#2fff85"/><stop offset="0.5511" stop-color="#50ff83"/><stop offset="0.618" stop-color="#91ff76"/><stop offset="0.7201" stop-color="#d1ff5b"/><stop offset="0.8151" stop-color="#fffb1c"/><stop offset="0.8539" stop-color="#ffea02"/><stop offset="0.9243" stop-color="#ffd009"/><stop offset="0.9982" stop-color="#fb0"/></linearGradient><linearGradient id="g84"><stop offset="0.001742" stop-color="#00ffb5"/><stop offset="0.3711" stop-color="#04ff9b"/><stop offset="0.4826" stop-color="#29ff90"/><stop offset="0.5279" stop-color="#1eff89"/><stop offset="0.5383" stop-color="#45ff87"/><stop offset="0.5627" stop-color="#68ff83"/><stop offset="0.6394" stop-color="#a8ff73"/><stop offset="0.7195" stop-color="#d8ff5d"/><stop offset="0.8031" stop-color="#fffb25"/><stop offset="0.8484" stop-color="#ffe607"/><stop offset="0.9321" stop-color="#ffc90a"/><stop offset="0.9983" stop-color="#ffb600"/></linearGradient><linearGradient id="g85"><stop offset="0.00173" stop-color="#00ffb6"/><stop offset="0.3651" stop-color="#03ff9e"/><stop offset="0.4862" stop-color="#2dff91"/><stop offset="0.5242" stop-color="#23ff8c"/><stop offset="0.5277" stop-color="#27ff8b"/><stop offset="0.5311" stop-color="#3bff8a"/><stop offset="0.5484" stop-color="#5fff88"/><stop offset="0.6142" stop-color="#9cff7b"/><stop offset="0.7215" stop-color="#deff60"/><stop offset="0.7907" stop-color="#fffb31"/><stop offset="0.8426" stop-color="#ffe40f"/><stop offset="0.9775" stop-color="#ffb703"/><stop offset="0.9983" stop-color="#ffb200"/></linearGradient><linearGradient id="g86"><stop offset="0.001724" stop-color="#00ffb8"/><stop offset="0.3603" stop-color="#04ffa0"/><stop offset="0.45" stop-color="#27ff98"/><stop offset="0.4948" stop-color="#32ff92"/><stop offset="0.5224" stop-color="#2cff8e"/><stop offset="0.5328" stop-color="#4fff8c"/><stop offset="0.5638" stop-color="#79ff87"/><stop offset="0.6603" stop-color="#c0ff73"/><stop offset="0.7259" stop-color="#e6ff60"/><stop offset="0.781" stop-color="#fffb3a"/><stop offset="0.8328" stop-color="#ffe318"/><stop offset="0.8672" stop-color="#ffd610"/><stop offset="0.9983" stop-color="#ffaf01"/></linearGradient><linearGradient id="g87"><stop offset="0.001706" stop-color="#00ffba"/><stop offset="0.3532" stop-color="#03ffa3"/><stop offset="0.442" stop-color="#26ff9b"/><stop offset="0.4863" stop-color="#38ff95"/><stop offset="0.5205" stop-color="#35ff90"/><stop offset="0.5239" stop-color="#47ff90"/><stop offset="0.541" stop-color="#68ff8d"/><stop offset="0.6058" stop-color="#a3ff81"/><stop offset="0.7218" stop-color="#eaff64"/><stop offset="0.7696" stop-color="#fffa43"/><stop offset="0.8208" stop-color="#ffe321"/><stop offset="0.8652" stop-color="#ffd212"/><stop offset="0.9983" stop-color="#fa0"/></linearGradient><linearGradient id="g88"><stop offset="0.001695" stop-color="#0fb"/><stop offset="0.3508" stop-color="#03ffa5"/><stop offset="0.439" stop-color="#26ff9d"/><stop offset="0.4831" stop-color="#3cff98"/><stop offset="0.5169" stop-color="#39ff93"/><stop offset="0.5271" stop-color="#5aff91"/><stop offset="0.5576" stop-color="#81ff8c"/><stop offset="0.6627" stop-color="#cdff77"/><stop offset="0.7271" stop-color="#f2ff65"/><stop offset="0.7678" stop-color="#fff646"/><stop offset="0.8288" stop-color="#ffdb22"/><stop offset="0.8729" stop-color="#ffcb14"/><stop offset="0.9983" stop-color="#ffa700"/></linearGradient><linearGradient id="g89"><stop offset="0.001689" stop-color="#00ffbd"/><stop offset="0.3463" stop-color="#04ffa7"/><stop offset="0.4341" stop-color="#27ffa0"/><stop offset="0.4814" stop-color="#41ff9a"/><stop offset="0.5152" stop-color="#42ff95"/><stop offset="0.5186" stop-color="#53ff95"/><stop offset="0.5389" stop-color="#76ff92"/><stop offset="0.6199" stop-color="#b8ff83"/><stop offset="0.728" stop-color="#f9ff67"/><stop offset="0.7821" stop-color="#ffea3e"/><stop offset="0.8666" stop-color="#ffc917"/><stop offset="0.9983" stop-color="#ffa301"/></linearGradient><linearGradient id="g90"><stop offset="0.001672" stop-color="#00ffbe"/><stop offset="0.3395" stop-color="#03ffa9"/><stop offset="0.4331" stop-color="#29ffa2"/><stop offset="0.4799" stop-color="#47ff9c"/><stop offset="0.51" stop-color="#47ff98"/><stop offset="0.5201" stop-color="#64ff97"/><stop offset="0.5535" stop-color="#8dff91"/><stop offset="0.6706" stop-color="#deff7a"/><stop offset="0.7274" stop-color="#fdfd69"/><stop offset="0.7876" stop-color="#ffe23d"/><stop offset="0.8645" stop-color="#ffc419"/><stop offset="0.9983" stop-color="#ff9f00"/></linearGradient><linearGradient id="g91"><stop offset="0.001661" stop-color="#00ffc0"/><stop offset="0.3372" stop-color="#03ffac"/><stop offset="0.4336" stop-color="#2bffa4"/><stop offset="0.4801" stop-color="#4cff9e"/><stop offset="0.51" stop-color="#4fff9a"/><stop offset="0.5133" stop-color="#5fff9a"/><stop offset="0.5332" stop-color="#7fff97"/><stop offset="0.6163" stop-color="#c1ff88"/><stop offset="0.7226" stop-color="#fefc6f"/><stop offset="0.7924" stop-color="#ffdb3d"/><stop offset="0.8688" stop-color="#ffbf1a"/><stop offset="0.9983" stop-color="#ff9b00"/></linearGradient><linearGradient id="g92"><stop offset="0.001656" stop-color="#00ffc2"/><stop offset="0.3328" stop-color="#03ffae"/><stop offset="0.4288" stop-color="#2affa6"/><stop offset="0.4785" stop-color="#52ffa1"/><stop offset="0.505" stop-color="#55ff9d"/><stop offset="0.5182" stop-color="#74ff9b"/><stop offset="0.5679" stop-color="#a5ff94"/><stop offset="0.7036" stop-color="#fcfe77"/><stop offset="0.7467" stop-color="#ffea5c"/><stop offset="0.8593" stop-color="#ffbe1d"/><stop offset="0.9983" stop-color="#ff9801"/></linearGradient><linearGradient id="g93"><stop offset="0.001639" stop-color="#00ffc3"/><stop offset="0.3295" stop-color="#03ffb0"/><stop offset="0.3984" stop-color="#1dffac"/><stop offset="0.4344" stop-color="#32ffa8"/><stop offset="0.477" stop-color="#57ffa3"/><stop offset="0.5033" stop-color="#5dffa0"/><stop offset="0.5098" stop-color="#71ff9f"/><stop offset="0.5459" stop-color="#9aff99"/><stop offset="0.6869" stop-color="#faff7e"/><stop offset="0.7393" stop-color="#ffe862"/><stop offset="0.8541" stop-color="#ffbb21"/><stop offset="0.9984" stop-color="#ff9300"/></linearGradient><linearGradient id="g94"><stop offset="0.001629" stop-color="#00ffc5"/><stop offset="0.3274" stop-color="#04ffb2"/><stop offset="0.3893" stop-color="#1dffaf"/><stop offset="0.4283" stop-color="#2effab"/><stop offset="0.4772" stop-color="#5dffa5"/><stop offset="0.5" stop-color="#62ffa2"/><stop offset="0.513" stop-color="#7effa1"/><stop offset="0.5684" stop-color="#b2ff98"/><stop offset="0.6889" stop-color="#fefd7f"/><stop offset="0.7736" stop-color="#ffd44d"/><stop offset="0.8746" stop-color="#ffb11d"/><stop offset="0.9984" stop-color="#ff9001"/></linearGradient><linearGradient id="g95"><stop offset="0.001618" stop-color="#00ffc7"/><stop offset="0.3252" stop-color="#04ffb5"/><stop offset="0.3835" stop-color="#1effb2"/><stop offset="0.4256" stop-color="#2dffad"/><stop offset="0.4773" stop-color="#63ffa7"/><stop offset="0.5" stop-color="#6affa5"/><stop offset="0.5097" stop-color="#81ffa3"/><stop offset="0.5647" stop-color="#b4ff9b"/><stop offset="0.6812" stop-color="#fefc83"/><stop offset="0.8172" stop-color="#ffc037"/><stop offset="0.8851" stop-color="#ffaa1c"/><stop offset="0.9984" stop-color="#ff8d01"/></linearGradient><linearGradient id="g96"><stop offset="0.001608" stop-color="#00ffc9"/><stop offset="0.3199" stop-color="#04ffb7"/><stop offset="0.3778" stop-color="#1fffb4"/><stop offset="0.4228" stop-color="#2effaf"/><stop offset="0.4743" stop-color="#69ffaa"/><stop offset="0.4936" stop-color="#70ffa7"/><stop offset="0.5096" stop-color="#8cffa5"/><stop offset="0.5868" stop-color="#ccff9a"/><stop offset="0.6704" stop-color="#fffc87"/><stop offset="0.799" stop-color="#ffc141"/><stop offset="0.8826" stop-color="#ffa61e"/><stop offset="0.9984" stop-color="#f80"/></linearGradient><linearGradient id="g97"><stop offset="0.001597" stop-color="#00ffca"/><stop offset="0.3179" stop-color="#04ffb9"/><stop offset="0.3722" stop-color="#20ffb7"/><stop offset="0.4233" stop-color="#30ffb1"/><stop offset="0.4744" stop-color="#6fffac"/><stop offset="0.4936" stop-color="#78ffaa"/><stop offset="0.5096" stop-color="#92ffa8"/><stop offset="0.5958" stop-color="#d7ff9b"/><stop offset="0.6629" stop-color="#fffb8b"/><stop offset="0.7875" stop-color="#ffc148"/><stop offset="0.8834" stop-color="#ffa21f"/><stop offset="0.9984" stop-color="#ff8501"/></linearGradient><linearGradient id="g98"><stop offset="0.001582" stop-color="#0fc"/><stop offset="0.3149" stop-color="#03ffbc"/><stop offset="0.3687" stop-color="#22ffb9"/><stop offset="0.4225" stop-color="#31ffb3"/><stop offset="0.4731" stop-color="#75ffae"/><stop offset="0.4921" stop-color="#83ffac"/><stop offset="0.5332" stop-color="#b0ffa7"/><stop offset="0.6503" stop-color="#fffc91"/><stop offset="0.7769" stop-color="#ffc04e"/><stop offset="0.8813" stop-color="#ff9f20"/><stop offset="0.9984" stop-color="#ff8100"/></linearGradient><linearGradient id="g99"><stop offset="0.001577" stop-color="#00ffce"/><stop offset="0.3107" stop-color="#03ffbe"/><stop offset="0.3644" stop-color="#24ffbc"/><stop offset="0.4211" stop-color="#33ffb5"/><stop offset="0.4464" stop-color="#58ffb3"/><stop offset="0.4748" stop-color="#7effb0"/><stop offset="0.4905" stop-color="#8cffaf"/><stop offset="0.5473" stop-color="#c2ffa7"/><stop offset="0.642" stop-color="#fffb95"/><stop offset="0.7681" stop-color="#ffbf54"/><stop offset="0.8849" stop-color="#ff9a20"/><stop offset="0.9984" stop-color="#ff7d00"/></linearGradient><linearGradient id="g100"><stop offset="0.001567" stop-color="#00ffd0"/><stop offset="0.3088" stop-color="#03ffc0"/><stop offset="0.3621" stop-color="#26ffbe"/><stop offset="0.4216" stop-color="#34ffb8"/><stop offset="0.4687" stop-color="#7fffb3"/><stop offset="0.5533" stop-color="#cbffa9"/><stop offset="0.6317" stop-color="#fffc9b"/><stop offset="0.7602" stop-color="#ffbe5a"/><stop offset="0.8856" stop-color="#ff9621"/><stop offset="0.9984" stop-color="#ff7a01"/></linearGradient><linearGradient id="g101"><stop offset="0.001558" stop-color="#00ffd1"/><stop offset="0.3037" stop-color="#03ffc3"/><stop offset="0.3598" stop-color="#29ffc0"/><stop offset="0.4159" stop-color="#34ffba"/><stop offset="0.4657" stop-color="#85ffb6"/><stop offset="0.553" stop-color="#d3ffac"/><stop offset="0.6215" stop-color="#fffc9f"/><stop offset="0.7461" stop-color="#ffbe61"/><stop offset="0.8832" stop-color="#ff9222"/><stop offset="0.9984" stop-color="#ff7600"/></linearGradient><linearGradient id="g102"><stop offset="0.001548" stop-color="#00ffd3"/><stop offset="0.3019" stop-color="#02ffc5"/><stop offset="0.3545" stop-color="#2affc3"/><stop offset="0.4133" stop-color="#36ffbd"/><stop offset="0.4659" stop-color="#8bffb9"/><stop offset="0.5557" stop-color="#daffae"/><stop offset="0.6146" stop-color="#fffba3"/><stop offset="0.7415" stop-color="#ffbc64"/><stop offset="0.887" stop-color="#ff8e22"/><stop offset="0.9985" stop-color="#ff7200"/></linearGradient><linearGradient id="g103"><stop offset="0.001538" stop-color="#00ffd5"/><stop offset="0.3" stop-color="#02ffc8"/><stop offset="0.3523" stop-color="#2bffc5"/><stop offset="0.3954" stop-color="#34ffc1"/><stop offset="0.4108" stop-color="#39ffc0"/><stop offset="0.4662" stop-color="#92ffbd"/><stop offset="0.5615" stop-color="#e4ffb0"/><stop offset="0.6077" stop-color="#fffaa6"/><stop offset="0.7308" stop-color="#ffbc69"/><stop offset="0.8938" stop-color="#ff8921"/><stop offset="0.9985" stop-color="#ff6f01"/></linearGradient><linearGradient id="g104"><stop offset="0.001529" stop-color="#00ffd7"/><stop offset="0.2951" stop-color="#01ffca"/><stop offset="0.3502" stop-color="#2fffc8"/><stop offset="0.393" stop-color="#37ffc4"/><stop offset="0.4052" stop-color="#3dffc3"/><stop offset="0.4388" stop-color="#73ffc3"/><stop offset="0.4694" stop-color="#9fffbf"/><stop offset="0.5826" stop-color="#faffb0"/><stop offset="0.6713" stop-color="#ffd082"/><stop offset="0.8333" stop-color="#ff9538"/><stop offset="0.9985" stop-color="#ff6a00"/></linearGradient><linearGradient id="g105"><stop offset="0.00152" stop-color="#00ffd9"/><stop offset="0.2964" stop-color="#04ffcc"/><stop offset="0.348" stop-color="#30ffca"/><stop offset="0.3875" stop-color="#3cffc7"/><stop offset="0.3997" stop-color="#3effc6"/><stop offset="0.4301" stop-color="#68ffc7"/><stop offset="0.4635" stop-color="#9effc3"/><stop offset="0.576" stop-color="#fbffb4"/><stop offset="0.7128" stop-color="#ffba70"/><stop offset="0.9073" stop-color="#ff7d1d"/><stop offset="0.9985" stop-color="#ff6700"/></linearGradient><linearGradient id="g106"><stop offset="0.001511" stop-color="#00ffda"/><stop offset="0.2946" stop-color="#03ffcf"/><stop offset="0.352" stop-color="#36ffcd"/><stop offset="0.3973" stop-color="#43ffc9"/><stop offset="0.4305" stop-color="#6fffca"/><stop offset="0.4607" stop-color="#a1ffc7"/><stop offset="0.5695" stop-color="#fcffb8"/><stop offset="0.6934" stop-color="#ffbe78"/><stop offset="0.8988" stop-color="#ff7c21"/><stop offset="0.9985" stop-color="#ff6301"/></linearGradient><linearGradient id="g107"><stop offset="0.001502" stop-color="#0fd"/><stop offset="0.2898" stop-color="#02ffd1"/><stop offset="0.3438" stop-color="#36ffcf"/><stop offset="0.3829" stop-color="#4fc"/><stop offset="0.4009" stop-color="#51ffcc"/><stop offset="0.4309" stop-color="#7bffcd"/><stop offset="0.461" stop-color="#abffc9"/><stop offset="0.5631" stop-color="#fefebb"/><stop offset="0.6712" stop-color="#ffc281"/><stop offset="0.8514" stop-color="#ff8433"/><stop offset="0.9985" stop-color="#ff5e00"/></linearGradient><linearGradient id="g108"><stop offset="0.001493" stop-color="#00ffde"/><stop offset="0.2881" stop-color="#01ffd4"/><stop offset="0.3478" stop-color="#3cffd2"/><stop offset="0.3925" stop-color="#50ffcf"/><stop offset="0.4284" stop-color="#7cffd0"/><stop offset="0.4582" stop-color="#aeffcd"/><stop offset="0.5567" stop-color="#fffdbe"/><stop offset="0.6642" stop-color="#ffc184"/><stop offset="0.8433" stop-color="#ff8337"/><stop offset="0.9985" stop-color="#ff5b01"/></linearGradient><linearGradient id="g109"><stop offset="0.001484" stop-color="#00ffe0"/><stop offset="0.2893" stop-color="#04ffd6"/><stop offset="0.3427" stop-color="#3cffd5"/><stop offset="0.3813" stop-color="#4effd1"/><stop offset="0.4258" stop-color="#7dffd3"/><stop offset="0.4585" stop-color="#b4ffd0"/><stop offset="0.5504" stop-color="#fffdc2"/><stop offset="0.6573" stop-color="#ffc087"/><stop offset="0.8383" stop-color="#ff813a"/><stop offset="0.9985" stop-color="#ff5701"/></linearGradient><linearGradient id="g110"><stop offset="0.001475" stop-color="#00ffe2"/><stop offset="0.2847" stop-color="#03ffd9"/><stop offset="0.3437" stop-color="#43ffd7"/><stop offset="0.3879" stop-color="#5dffd4"/><stop offset="0.4263" stop-color="#89ffd6"/><stop offset="0.4558" stop-color="#baffd3"/><stop offset="0.5413" stop-color="#fffcc5"/><stop offset="0.6504" stop-color="#ffbd89"/><stop offset="0.8392" stop-color="#ff7c3a"/><stop offset="0.9985" stop-color="#ff5200"/></linearGradient><linearGradient id="g111"><stop offset="0.001466" stop-color="#00ffe4"/><stop offset="0.283" stop-color="#02ffdc"/><stop offset="0.3416" stop-color="#44ffda"/><stop offset="0.3886" stop-color="#65ffd8"/><stop offset="0.4296" stop-color="#95ffd9"/><stop offset="0.456" stop-color="#c1ffd6"/><stop offset="0.5323" stop-color="#fffdca"/><stop offset="0.6437" stop-color="#ffbc8c"/><stop offset="0.8372" stop-color="#ff793c"/><stop offset="0.9985" stop-color="#ff4d01"/></linearGradient><linearGradient id="g112"><stop offset="0.001462" stop-color="#00ffe6"/><stop offset="0.2792" stop-color="#01ffde"/><stop offset="0.3436" stop-color="#4cffdc"/><stop offset="0.3845" stop-color="#6affda"/><stop offset="0.4284" stop-color="#9cffdc"/><stop offset="0.4547" stop-color="#c7ffda"/><stop offset="0.5249" stop-color="#fffcce"/><stop offset="0.636" stop-color="#ffba8f"/><stop offset="0.8377" stop-color="#ff753c"/><stop offset="0.9985" stop-color="#ff4901"/></linearGradient><linearGradient id="g113"><stop offset="0.001449" stop-color="#00ffe8"/><stop offset="0.2797" stop-color="#03ffe1"/><stop offset="0.3406" stop-color="#4dffdf"/><stop offset="0.3928" stop-color="#7bffde"/><stop offset="0.4304" stop-color="#a8ffe0"/><stop offset="0.4536" stop-color="#cdffdd"/><stop offset="0.5174" stop-color="#fffbd1"/><stop offset="0.6217" stop-color="#ffbc95"/><stop offset="0.8188" stop-color="#ff7644"/><stop offset="0.9986" stop-color="#ff4300"/></linearGradient><linearGradient id="g114"><stop offset="0.001445" stop-color="#00ffea"/><stop offset="0.276" stop-color="#02ffe4"/><stop offset="0.3425" stop-color="#56ffe2"/><stop offset="0.3974" stop-color="#89ffe1"/><stop offset="0.4321" stop-color="#b4ffe3"/><stop offset="0.4552" stop-color="#d6ffdf"/><stop offset="0.5072" stop-color="#fffcd6"/><stop offset="0.6026" stop-color="#ffc19d"/><stop offset="0.7702" stop-color="#ff8058"/><stop offset="0.9986" stop-color="#ff3e01"/></linearGradient><linearGradient id="g115"><stop offset="0.001433" stop-color="#00ffed"/><stop offset="0.2736" stop-color="#00ffe6"/><stop offset="0.3395" stop-color="#57ffe5"/><stop offset="0.4284" stop-color="#b5ffe6"/><stop offset="0.4513" stop-color="#d9ffe3"/><stop offset="0.5" stop-color="#fffbda"/><stop offset="0.5888" stop-color="#ffc3a3"/><stop offset="0.7235" stop-color="#ff8c6a"/><stop offset="0.9986" stop-color="#ff3800"/></linearGradient><linearGradient id="g116"><stop offset="0.001425" stop-color="#0fe"/><stop offset="0.2749" stop-color="#03ffe9"/><stop offset="0.3433" stop-color="#60ffe8"/><stop offset="0.4316" stop-color="#c1ffe9"/><stop offset="0.4516" stop-color="#dfffe6"/><stop offset="0.4943" stop-color="#fffadd"/><stop offset="0.5741" stop-color="#ffc6aa"/><stop offset="0.7051" stop-color="#ff8e71"/><stop offset="0.9986" stop-color="#ff3200"/></linearGradient><linearGradient id="g117"><stop offset="0.00142" stop-color="#00fff1"/><stop offset="0.2713" stop-color="#02ffec"/><stop offset="0.3423" stop-color="#65ffeb"/><stop offset="0.4332" stop-color="#cdffec"/><stop offset="0.4531" stop-color="#e8ffe9"/><stop offset="0.4844" stop-color="#fffce2"/><stop offset="0.5639" stop-color="#ffc6ae"/><stop offset="0.7003" stop-color="#ff8c73"/><stop offset="0.9986" stop-color="#ff2b01"/></linearGradient><linearGradient id="g118"><stop offset="0.001408" stop-color="#00fff3"/><stop offset="0.269" stop-color="#00ffef"/><stop offset="0.3451" stop-color="#6fffee"/><stop offset="0.4324" stop-color="#d3ffef"/><stop offset="0.4521" stop-color="#eeffec"/><stop offset="0.4775" stop-color="#fffbe6"/><stop offset="0.5592" stop-color="#ffc3af"/><stop offset="0.7" stop-color="#ff8772"/><stop offset="0.9901" stop-color="#ff2502"/><stop offset="0.9986" stop-color="#ff2100"/></linearGradient><linearGradient id="g119"><stop offset="0.001404" stop-color="#00fff5"/><stop offset="0.2683" stop-color="#02fff2"/><stop offset="0.3497" stop-color="#7dfff1"/><stop offset="0.434" stop-color="#dffff2"/><stop offset="0.4621" stop-color="#fdffee"/><stop offset="0.5604" stop-color="#ffbeae"/><stop offset="0.7065" stop-color="#ff8170"/><stop offset="0.9424" stop-color="#ff3016"/><stop offset="0.9986" stop-color="#ff1601"/></linearGradient><linearGradient id="g120"><stop offset="0.001397" stop-color="#00fff7"/><stop offset="0.2668" stop-color="#01fff5"/><stop offset="0.3478" stop-color="#80fff4"/><stop offset="0.4372" stop-color="#ebfff5"/><stop offset="0.4623" stop-color="#fffbee"/><stop offset="0.5601" stop-color="#ffb9ad"/><stop offset="0.7137" stop-color="#ff7a6d"/><stop offset="0.9064" stop-color="#ff3725"/><stop offset="0.993" stop-color="#ff0901"/><stop offset="0.9986" stop-color="#ff0301"/></linearGradient><linearGradient id="g121"><stop offset="0.001389" stop-color="#00fef9"/><stop offset="0.2653" stop-color="#03fff8"/><stop offset="0.3514" stop-color="#8ffff7"/><stop offset="0.4486" stop-color="#fffff6"/><stop offset="0.5569" stop-color="#ffb5ad"/><stop offset="0.7208" stop-color="#ff736a"/><stop offset="0.9014" stop-color="#ff3227"/><stop offset="0.9986" stop-color="#f00"/></linearGradient><linearGradient id="g122"><stop offset="0.001381" stop-color="#00fdfa"/><stop offset="0.2638" stop-color="#01fffb"/><stop offset="0.3522" stop-color="#96fffb"/><stop offset="0.4434" stop-color="#fffef9"/><stop offset="0.5594" stop-color="#ffafab"/><stop offset="0.7334" stop-color="#ff6b66"/><stop offset="0.9213" stop-color="#ff2520"/><stop offset="0.9986" stop-color="#ff0101"/></linearGradient><linearGradient id="g123"><stop offset="0.001377" stop-color="#00fcfb"/><stop offset="0.2631" stop-color="#04fefd"/><stop offset="0.354" stop-color="#a0fefe"/><stop offset="0.4366" stop-color="#fffdfd"/><stop offset="0.5606" stop-color="#ffaaa9"/><stop offset="0.7534" stop-color="#ff5f5f"/><stop offset="0.9876" stop-color="#ff0404"/><stop offset="0.9986" stop-color="#ff0101"/></linearGradient><linearGradient id="g124"><stop offset="0.001366" stop-color="#00fbfd"/><stop offset="0.2609" stop-color="#02fcff"/><stop offset="0.3511" stop-color="#a3fcff"/><stop offset="0.4303" stop-color="#fdfafd"/><stop offset="0.5642" stop-color="#ffa3a7"/><stop offset="0.7637" stop-color="#ff575c"/><stop offset="0.9768" stop-color="#ff0708"/><stop offset="0.9986" stop-color="#f00"/></linearGradient><linearGradient id="g125"><stop offset="0.001359" stop-color="#00fafd"/><stop offset="0.2595" stop-color="#00f9ff"/><stop offset="0.3492" stop-color="#a5f8ff"/><stop offset="0.4253" stop-color="#faf6fd"/><stop offset="0.5693" stop-color="#ff9ca4"/><stop offset="0.7921" stop-color="#ff4552"/><stop offset="0.9035" stop-color="#ff1929"/><stop offset="0.9986" stop-color="#ff0101"/></linearGradient><linearGradient id="g126"><stop offset="0.001355" stop-color="#00f9ff"/><stop offset="0.2588" stop-color="#02f6ff"/><stop offset="0.3482" stop-color="#a9f5ff"/><stop offset="0.4187" stop-color="#f8f2fd"/><stop offset="0.5705" stop-color="#ff97a3"/><stop offset="0.7954" stop-color="#ff3c51"/><stop offset="0.8902" stop-color="#ff0c2f"/><stop offset="0.9824" stop-color="#ff0306"/><stop offset="0.9986" stop-color="#ff0101"/></linearGradient><linearGradient id="g127"><stop offset="0.001344" stop-color="#00f7ff"/><stop offset="0.2567" stop-color="#00f3ff"/><stop offset="0.3454" stop-color="#abf1ff"/><stop offset="0.4126" stop-color="#f5effd"/><stop offset="0.5605" stop-color="#fe96a5"/><stop offset="0.8024" stop-color="#ff334f"/><stop offset="0.8911" stop-color="#ff002f"/><stop offset="0.9987" stop-color="#f00"/></linearGradient><linearGradient id="g128"><stop offset="0.00134" stop-color="#00f4ff"/><stop offset="0.256" stop-color="#02f0ff"/><stop offset="0.3445" stop-color="#afedff"/><stop offset="0.4062" stop-color="#f2ebfd"/><stop offset="0.5509" stop-color="#fb94a8"/><stop offset="0.8271" stop-color="#ff2347"/><stop offset="0.8941" stop-color="#ff002e"/><stop offset="0.9987" stop-color="#ff0001"/></linearGradient><linearGradient id="g129"><stop offset="0.00133" stop-color="#00f2ff"/><stop offset="0.254" stop-color="#00ecff"/><stop offset="0.3418" stop-color="#b0e9ff"/><stop offset="0.4003" stop-color="#f0e7fd"/><stop offset="0.5386" stop-color="#f994ab"/><stop offset="0.8577" stop-color="#ff103c"/><stop offset="0.8949" stop-color="#ff002e"/><stop offset="0.9987" stop-color="#f00"/></linearGradient><linearGradient id="g130"><stop offset="0.001326" stop-color="#00efff"/><stop offset="0.2533" stop-color="#01e9ff"/><stop offset="0.3143" stop-color="#82e7ff"/><stop offset="0.3408" stop-color="#b4e6ff"/><stop offset="0.3939" stop-color="#ede3fd"/><stop offset="0.5265" stop-color="#f694ae"/><stop offset="0.6963" stop-color="#ff4b71"/><stop offset="0.874" stop-color="#ff0737"/><stop offset="0.9085" stop-color="#ff0028"/><stop offset="0.9987" stop-color="#f00"/></linearGradient><linearGradient id="g131"><stop offset="0.001319" stop-color="#0ef"/><stop offset="0.2546" stop-color="#04e6ff"/><stop offset="0.2942" stop-color="#5be5ff"/><stop offset="0.3259" stop-color="#a1e3ff"/><stop offset="0.3839" stop-color="#e7e1ff"/><stop offset="0.5185" stop-color="#f492b0"/><stop offset="0.6768" stop-color="#fc4d77"/><stop offset="0.7559" stop-color="#ff295f"/><stop offset="0.8668" stop-color="#ff0a3a"/><stop offset="0.9037" stop-color="#ff002b"/><stop offset="0.9987" stop-color="#ff0001"/></linearGradient><linearGradient id="g132"><stop offset="0.001312" stop-color="#00ebff"/><stop offset="0.2507" stop-color="#01e3ff"/><stop offset="0.3084" stop-color="#8ce0ff"/><stop offset="0.3451" stop-color="#c2deff"/><stop offset="0.3819" stop-color="#e8dbfd"/><stop offset="0.5026" stop-color="#f193b4"/><stop offset="0.6575" stop-color="#fa4f7b"/><stop offset="0.7756" stop-color="#ff1258"/><stop offset="0.8333" stop-color="#ff1245"/><stop offset="0.9016" stop-color="#ff002c"/><stop offset="0.9987" stop-color="#f00"/></linearGradient><linearGradient id="g133"><stop offset="0.001305" stop-color="#00e9ff"/><stop offset="0.2415" stop-color="#03e0ff"/><stop offset="0.252" stop-color="#0cdfff"/><stop offset="0.2911" stop-color="#72deff"/><stop offset="0.3277" stop-color="#b0dbff"/><stop offset="0.3773" stop-color="#e5d8fd"/><stop offset="0.4948" stop-color="#ef92b7"/><stop offset="0.6436" stop-color="#f7507f"/><stop offset="0.7794" stop-color="#fe0756"/><stop offset="0.8551" stop-color="#ff0a3e"/><stop offset="0.9125" stop-color="#ff0027"/><stop offset="0.9987" stop-color="#f00"/></linearGradient><linearGradient id="g134"><stop offset="0.001302" stop-color="#00e6ff"/><stop offset="0.2227" stop-color="#03deff"/><stop offset="0.2487" stop-color="#14dcff"/><stop offset="0.2773" stop-color="#61dbff"/><stop offset="0.3138" stop-color="#a3d9ff"/><stop offset="0.3711" stop-color="#e2d4fd"/><stop offset="0.4831" stop-color="#ec91ba"/><stop offset="0.6289" stop-color="#f55082"/><stop offset="0.7669" stop-color="#fc0759"/><stop offset="0.9154" stop-color="#ff0027"/><stop offset="0.9987" stop-color="#ff0001"/></linearGradient><linearGradient id="g135"><stop offset="0.001292" stop-color="#00e4ff"/><stop offset="0.2054" stop-color="#04dcff"/><stop offset="0.239" stop-color="#19daff"/><stop offset="0.2519" stop-color="#31d9ff"/><stop offset="0.2855" stop-color="#7bd7ff"/><stop offset="0.332" stop-color="#bed3ff"/><stop offset="0.3656" stop-color="#e0d0fd"/><stop offset="0.4716" stop-color="#e991bd"/><stop offset="0.6111" stop-color="#f25287"/><stop offset="0.7506" stop-color="#fa075c"/><stop offset="0.9109" stop-color="#ff0029"/><stop offset="0.9987" stop-color="#f00"/></linearGradient><linearGradient id="g136"><stop offset="0.001289" stop-color="#00e1ff"/><stop offset="0.1869" stop-color="#03d9ff"/><stop offset="0.2204" stop-color="#12d8ff"/><stop offset="0.2513" stop-color="#42d5ff"/><stop offset="0.2925" stop-color="#8fd3ff"/><stop offset="0.3518" stop-color="#d8ceff"/><stop offset="0.3879" stop-color="#dfbaeb"/><stop offset="0.4652" stop-color="#e78fbe"/><stop offset="0.5992" stop-color="#f05189"/><stop offset="0.7358" stop-color="#f7075f"/><stop offset="0.9188" stop-color="#ff0026"/><stop offset="0.9987" stop-color="#ff0001"/></linearGradient><linearGradient id="g137"><stop offset="0.001282" stop-color="#00e0ff"/><stop offset="0.1833" stop-color="#04d7ff"/><stop offset="0.2064" stop-color="#0fd5ff"/><stop offset="0.2474" stop-color="#44d2ff"/><stop offset="0.2936" stop-color="#95d0ff"/><stop offset="0.3526" stop-color="#dacaff"/><stop offset="0.4526" stop-color="#e48fc3"/><stop offset="0.5833" stop-color="#ed538e"/><stop offset="0.7218" stop-color="#f50763"/><stop offset="0.9218" stop-color="#fe0023"/><stop offset="0.9987" stop-color="#ff0001"/></linearGradient><linearGradient id="g138"><stop offset="0.001276" stop-color="#0df"/><stop offset="0.1798" stop-color="#04d4ff"/><stop offset="0.2232" stop-color="#2ed1ff"/><stop offset="0.2589" stop-color="#66ceff"/><stop offset="0.3099" stop-color="#b2caff"/><stop offset="0.3482" stop-color="#d8c4fd"/><stop offset="0.4401" stop-color="#e28fc6"/><stop offset="0.5676" stop-color="#eb5391"/><stop offset="0.7054" stop-color="#f30766"/><stop offset="0.9018" stop-color="#fc0027"/><stop offset="0.9987" stop-color="#f00"/></linearGradient><linearGradient id="g139"><stop offset="0.001279" stop-color="#00daff"/><stop offset="0.1726" stop-color="#04d1ff"/><stop offset="0.2084" stop-color="#23cfff"/><stop offset="0.2442" stop-color="#54ccff"/><stop offset="0.298" stop-color="#a6c8ff"/><stop offset="0.344" stop-color="#d5c1fd"/><stop offset="0.4335" stop-color="#df8ec8"/><stop offset="0.5588" stop-color="#e95294"/><stop offset="0.6944" stop-color="#f10669"/><stop offset="0.8887" stop-color="#fa002b"/><stop offset="0.9987" stop-color="#ff0001"/></linearGradient><linearGradient id="g140"><stop offset="0.001295" stop-color="#00d8ff"/><stop offset="0.1723" stop-color="#03cfff"/><stop offset="0.2137" stop-color="#27ccff"/><stop offset="0.3044" stop-color="#abc4ff"/><stop offset="0.3459" stop-color="#d3bdfd"/><stop offset="0.4313" stop-color="#dd8dcb"/><stop offset="0.5583" stop-color="#e65197"/><stop offset="0.693" stop-color="#ee066c"/><stop offset="0.8873" stop-color="#f8002f"/><stop offset="0.9987" stop-color="#fc0005"/></linearGradient><linearGradient id="g141"><stop offset="0.001316" stop-color="#00d6ff"/><stop offset="0.175" stop-color="#04ccff"/><stop offset="0.2171" stop-color="#2ec9ff"/><stop offset="0.3039" stop-color="#a9c1ff"/><stop offset="0.3461" stop-color="#d1bafd"/><stop offset="0.4276" stop-color="#da8dce"/><stop offset="0.5566" stop-color="#e4509a"/><stop offset="0.6934" stop-color="#ec066f"/><stop offset="0.8855" stop-color="#f50033"/><stop offset="0.9987" stop-color="#fa0009"/></linearGradient><linearGradient id="g142"><stop offset="0.001333" stop-color="#00d4ff"/><stop offset="0.1773" stop-color="#03c9ff"/><stop offset="0.2227" stop-color="#31c5ff"/><stop offset="0.2973" stop-color="#9dbfff"/><stop offset="0.348" stop-color="#cfb7fd"/><stop offset="0.428" stop-color="#d88cd1"/><stop offset="0.5613" stop-color="#e24d9b"/><stop offset="0.692" stop-color="#ea0672"/><stop offset="0.8867" stop-color="#f30036"/><stop offset="0.9987" stop-color="#f8000d"/></linearGradient><linearGradient id="g143"><stop offset="0.001355" stop-color="#00d1ff"/><stop offset="0.1802" stop-color="#04c6ff"/><stop offset="0.2317" stop-color="#3dc2ff"/><stop offset="0.2859" stop-color="#8ebcff"/><stop offset="0.3482" stop-color="#cdb3fd"/><stop offset="0.4241" stop-color="#d58bd4"/><stop offset="0.565" stop-color="#e0499d"/><stop offset="0.6897" stop-color="#e80675"/><stop offset="0.8848" stop-color="#f1003a"/><stop offset="0.9986" stop-color="#f60011"/></linearGradient><linearGradient id="g144"><stop offset="0.001374" stop-color="#00cfff"/><stop offset="0.1827" stop-color="#03c3ff"/><stop offset="0.2321" stop-color="#3bbfff"/><stop offset="0.2898" stop-color="#90b9ff"/><stop offset="0.3503" stop-color="#ccb0fd"/><stop offset="0.4245" stop-color="#d38ad6"/><stop offset="0.5673" stop-color="#de469f"/><stop offset="0.6882" stop-color="#e50678"/><stop offset="0.8832" stop-color="#ef003e"/><stop offset="0.9986" stop-color="#f40015"/></linearGradient><linearGradient id="g145"><stop offset="0.001397" stop-color="#0cf"/><stop offset="0.1858" stop-color="#04c0ff"/><stop offset="0.236" stop-color="#3dbcff"/><stop offset="0.2863" stop-color="#8bb6ff"/><stop offset="0.3506" stop-color="#caadfd"/><stop offset="0.4232" stop-color="#d089d8"/><stop offset="0.5628" stop-color="#db47a2"/><stop offset="0.6858" stop-color="#e3067c"/><stop offset="0.8841" stop-color="#ed0041"/><stop offset="0.9986" stop-color="#f10019"/></linearGradient><linearGradient id="g146"><stop offset="0.00142" stop-color="#00caff"/><stop offset="0.1861" stop-color="#02bdff"/><stop offset="0.2429" stop-color="#45b8ff"/><stop offset="0.2884" stop-color="#8cb3ff"/><stop offset="0.3509" stop-color="#c8a9fd"/><stop offset="0.4219" stop-color="#ce87db"/><stop offset="0.5582" stop-color="#d947a6"/><stop offset="0.6832" stop-color="#e1057f"/><stop offset="0.8821" stop-color="#ea0045"/><stop offset="0.9986" stop-color="#ef001d"/></linearGradient><linearGradient id="g147"><stop offset="0.001441" stop-color="#00c7ff"/><stop offset="0.1916" stop-color="#03baff"/><stop offset="0.2493" stop-color="#49b4ff"/><stop offset="0.2925" stop-color="#8eafff"/><stop offset="0.353" stop-color="#c6a6fd"/><stop offset="0.4222" stop-color="#cb86dd"/><stop offset="0.5519" stop-color="#d649aa"/><stop offset="0.6816" stop-color="#df0582"/><stop offset="0.8804" stop-color="#e80048"/><stop offset="0.9986" stop-color="#ed0021"/></linearGradient><linearGradient id="g148"><stop offset="0.001466" stop-color="#00c5ff"/><stop offset="0.195" stop-color="#03b7ff"/><stop offset="0.2566" stop-color="#51b1ff"/><stop offset="0.2889" stop-color="#88acff"/><stop offset="0.3534" stop-color="#c4a3fd"/><stop offset="0.4238" stop-color="#c983de"/><stop offset="0.5469" stop-color="#d449ae"/><stop offset="0.6789" stop-color="#dc0585"/><stop offset="0.8812" stop-color="#e6004b"/><stop offset="0.9985" stop-color="#eb0025"/></linearGradient><linearGradient id="g149"><stop offset="0.001488" stop-color="#00c3ff"/><stop offset="0.2009" stop-color="#04b3ff"/><stop offset="0.2634" stop-color="#54adff"/><stop offset="0.2812" stop-color="#7aabff"/><stop offset="0.3378" stop-color="#b5a3ff"/><stop offset="0.3616" stop-color="#c29cfa"/><stop offset="0.5402" stop-color="#d14bb2"/><stop offset="0.6771" stop-color="#da0589"/><stop offset="0.8795" stop-color="#e4004f"/><stop offset="0.9985" stop-color="#e90029"/></linearGradient><linearGradient id="g150"><stop offset="0.001515" stop-color="#00c0ff"/><stop offset="0.2015" stop-color="#02b0ff"/><stop offset="0.2591" stop-color="#49abff"/><stop offset="0.2742" stop-color="#6ea9ff"/><stop offset="0.3167" stop-color="#a0a3ff"/><stop offset="0.3591" stop-color="#c09afc"/><stop offset="0.5348" stop-color="#cf4cb6"/><stop offset="0.6742" stop-color="#d8058c"/><stop offset="0.8803" stop-color="#e20052"/><stop offset="0.9985" stop-color="#e6002d"/></linearGradient><linearGradient id="g151"><stop offset="0.001543" stop-color="#00bdff"/><stop offset="0.2052" stop-color="#02adff"/><stop offset="0.2546" stop-color="#3fa8ff"/><stop offset="0.267" stop-color="#61a7ff"/><stop offset="0.3009" stop-color="#8fa2ff"/><stop offset="0.3565" stop-color="#be98fd"/><stop offset="0.5324" stop-color="#cc4bb9"/><stop offset="0.6713" stop-color="#d6058f"/><stop offset="0.8781" stop-color="#e00056"/><stop offset="0.9985" stop-color="#e40031"/></linearGradient><linearGradient id="g152"><stop offset="0.001567" stop-color="#00bcff"/><stop offset="0.2116" stop-color="#03aaff"/><stop offset="0.2524" stop-color="#36a6ff"/><stop offset="0.2618" stop-color="#54a4ff"/><stop offset="0.2931" stop-color="#83a0ff"/><stop offset="0.3589" stop-color="#bc95fd"/><stop offset="0.5282" stop-color="#ca4bbc"/><stop offset="0.6724" stop-color="#d30592"/><stop offset="0.8793" stop-color="#dd0059"/><stop offset="0.9984" stop-color="#e20035"/></linearGradient><linearGradient id="g153"><stop offset="0.001603" stop-color="#00b9ff"/><stop offset="0.2163" stop-color="#03a6ff"/><stop offset="0.2484" stop-color="#2da3ff"/><stop offset="0.258" stop-color="#4da2ff"/><stop offset="0.2901" stop-color="#7e9eff"/><stop offset="0.3574" stop-color="#b993ff"/><stop offset="0.5272" stop-color="#c84abf"/><stop offset="0.6715" stop-color="#d10495"/><stop offset="0.883" stop-color="#db005c"/><stop offset="0.9984" stop-color="#e0003a"/></linearGradient><linearGradient id="g154"><stop offset="0.001634" stop-color="#00b6ff"/><stop offset="0.2206" stop-color="#04a3ff"/><stop offset="0.2402" stop-color="#1ba1ff"/><stop offset="0.2533" stop-color="#459fff"/><stop offset="0.2827" stop-color="#749cff"/><stop offset="0.348" stop-color="#b092ff"/><stop offset="0.3742" stop-color="#b989f9"/><stop offset="0.5245" stop-color="#c549c2"/><stop offset="0.6683" stop-color="#cf0498"/><stop offset="0.884" stop-color="#d9005f"/><stop offset="0.9984" stop-color="#dd003e"/></linearGradient><linearGradient id="g155"><stop offset="0.001661" stop-color="#00b4ff"/><stop offset="0.2276" stop-color="#04a0ff"/><stop offset="0.2375" stop-color="#129eff"/><stop offset="0.2508" stop-color="#3e9dff"/><stop offset="0.2807" stop-color="#6f99ff"/><stop offset="0.3439" stop-color="#aa8fff"/><stop offset="0.3704" stop-color="#b688fb"/><stop offset="0.5199" stop-color="#c34ac6"/><stop offset="0.6661" stop-color="#cd049b"/><stop offset="0.8854" stop-color="#d70062"/><stop offset="0.9983" stop-color="#db0042"/></linearGradient><linearGradient id="g156"><stop offset="0.001695" stop-color="#00b1ff"/><stop offset="0.2288" stop-color="#019cff"/><stop offset="0.2458" stop-color="#379aff"/><stop offset="0.2763" stop-color="#6997ff"/><stop offset="0.3373" stop-color="#a38dff"/><stop offset="0.3678" stop-color="#b586fc"/><stop offset="0.5169" stop-color="#c049c9"/><stop offset="0.6627" stop-color="#ca049e"/><stop offset="0.8864" stop-color="#d50065"/><stop offset="0.9983" stop-color="#d90045"/></linearGradient><linearGradient id="g157"><stop offset="0.00173" stop-color="#00aeff"/><stop offset="0.2232" stop-color="#019aff"/><stop offset="0.2474" stop-color="#3e97ff"/><stop offset="0.2855" stop-color="#7392ff"/><stop offset="0.3616" stop-color="#b285ff"/><stop offset="0.5138" stop-color="#be48cb"/><stop offset="0.6592" stop-color="#c804a2"/><stop offset="0.8875" stop-color="#d30068"/><stop offset="0.9983" stop-color="#d70049"/></linearGradient><linearGradient id="g158"><stop offset="0.001761" stop-color="#00acff"/><stop offset="0.2201" stop-color="#0298ff"/><stop offset="0.2482" stop-color="#3e94ff"/><stop offset="0.2905" stop-color="#758fff"/><stop offset="0.3644" stop-color="#b081ff"/><stop offset="0.5123" stop-color="#bc47ce"/><stop offset="0.6567" stop-color="#c604a5"/><stop offset="0.8891" stop-color="#d1006b"/><stop offset="0.9982" stop-color="#d4004d"/></linearGradient><linearGradient id="g159"><stop offset="0.001799" stop-color="#00a9ff"/><stop offset="0.214" stop-color="#0396ff"/><stop offset="0.2356" stop-color="#2d93ff"/><stop offset="0.2824" stop-color="#6c8dff"/><stop offset="0.3615" stop-color="#ad7eff"/><stop offset="0.5126" stop-color="#ba44d0"/><stop offset="0.6529" stop-color="#c404a8"/><stop offset="0.8903" stop-color="#cf006e"/><stop offset="0.9982" stop-color="#d20051"/></linearGradient><linearGradient id="g160"><stop offset="0.001838" stop-color="#00a6ff"/><stop offset="0.2077" stop-color="#0493ff"/><stop offset="0.2188" stop-color="#1b92ff"/><stop offset="0.2886" stop-color="#7288ff"/><stop offset="0.3658" stop-color="#ad7aff"/><stop offset="0.5018" stop-color="#b746d5"/><stop offset="0.6489" stop-color="#c104ab"/><stop offset="0.8915" stop-color="#cd0071"/><stop offset="0.9982" stop-color="#d00055"/></linearGradient><linearGradient id="g161"><stop offset="0.00188" stop-color="#00a4ff"/><stop offset="0.1974" stop-color="#0092ff"/><stop offset="0.2124" stop-color="#1990ff"/><stop offset="0.2914" stop-color="#7485ff"/><stop offset="0.3703" stop-color="#ac75fe"/><stop offset="0.5019" stop-color="#b544d7"/><stop offset="0.6485" stop-color="#bf03ae"/><stop offset="0.9041" stop-color="#cb0071"/><stop offset="0.9981" stop-color="#ce0059"/></linearGradient><linearGradient id="g162"><stop offset="0.001916" stop-color="#00a2ff"/><stop offset="0.1935" stop-color="#018fff"/><stop offset="0.2088" stop-color="#168dff"/><stop offset="0.2969" stop-color="#7681ff"/><stop offset="0.3736" stop-color="#aa71fe"/><stop offset="0.5613" stop-color="#b726c8"/><stop offset="0.6456" stop-color="#bd03b1"/><stop offset="0.9138" stop-color="#c90072"/><stop offset="0.9981" stop-color="#cc005d"/></linearGradient><linearGradient id="g163"><stop offset="0.001961" stop-color="#009fff"/><stop offset="0.1863" stop-color="#028dff"/><stop offset="0.198" stop-color="#118cff"/><stop offset="0.2569" stop-color="#4b84ff"/><stop offset="0.3039" stop-color="#7b7dff"/><stop offset="0.3745" stop-color="#a96dfe"/><stop offset="0.5588" stop-color="#b524ca"/><stop offset="0.6412" stop-color="#bb03b4"/><stop offset="0.9196" stop-color="#c70074"/><stop offset="0.998" stop-color="#c90061"/></linearGradient><linearGradient id="g164"><stop offset="0.002008" stop-color="#009bff"/><stop offset="0.1787" stop-color="#028bff"/><stop offset="0.1908" stop-color="#0e89ff"/><stop offset="0.251" stop-color="#4381ff"/><stop offset="0.3032" stop-color="#7979ff"/><stop offset="0.3755" stop-color="#a76afe"/><stop offset="0.5562" stop-color="#b323cd"/><stop offset="0.6365" stop-color="#b803b8"/><stop offset="0.9337" stop-color="#c50074"/><stop offset="0.998" stop-color="#c70065"/></linearGradient><linearGradient id="g165"><stop offset="0.002058" stop-color="#09f"/><stop offset="0.1708" stop-color="#0389ff"/><stop offset="0.2366" stop-color="#3480ff"/><stop offset="0.3066" stop-color="#7b75ff"/><stop offset="0.3765" stop-color="#a666fe"/><stop offset="0.5617" stop-color="#b21ecd"/><stop offset="0.6358" stop-color="#b603ba"/><stop offset="0.9774" stop-color="#c4006d"/><stop offset="0.9979" stop-color="#c50069"/></linearGradient><linearGradient id="g166"><stop offset="0.00211" stop-color="#0096ff"/><stop offset="0.1624" stop-color="#0286ff"/><stop offset="0.2257" stop-color="#297eff"/><stop offset="0.2764" stop-color="#5d77ff"/><stop offset="0.327" stop-color="#886eff"/><stop offset="0.3819" stop-color="#a461fc"/><stop offset="0.6055" stop-color="#b308c3"/><stop offset="0.6857" stop-color="#b601b4"/><stop offset="0.9979" stop-color="#c3006d"/></linearGradient><linearGradient id="g167"><stop offset="0.002155" stop-color="#0094ff"/><stop offset="0.1659" stop-color="#0383ff"/><stop offset="0.2263" stop-color="#267bff"/><stop offset="0.2694" stop-color="#4d75ff"/><stop offset="0.2996" stop-color="#7170ff"/><stop offset="0.3815" stop-color="#a25efe"/><stop offset="0.6228" stop-color="#b203c1"/><stop offset="0.9978" stop-color="#c00071"/></linearGradient><linearGradient id="g168"><stop offset="0.002212" stop-color="#0091ff"/><stop offset="0.1704" stop-color="#047fff"/><stop offset="0.2367" stop-color="#2d76ff"/><stop offset="0.2677" stop-color="#4b71ff"/><stop offset="0.2942" stop-color="#6b6dff"/><stop offset="0.3783" stop-color="#a05cff"/><stop offset="0.6217" stop-color="#b002c4"/><stop offset="0.9978" stop-color="#be0075"/></linearGradient><linearGradient id="g169"><stop offset="0.002273" stop-color="#008dff"/><stop offset="0.1705" stop-color="#037cff"/><stop offset="0.2477" stop-color="#3271ff"/><stop offset="0.2659" stop-color="#4a6eff"/><stop offset="0.2977" stop-color="#6d68ff"/><stop offset="0.3841" stop-color="#9f57fe"/><stop offset="0.6159" stop-color="#ad02c7"/><stop offset="0.9977" stop-color="#bc0079"/></linearGradient><linearGradient id="g170"><stop offset="0.002336" stop-color="#008aff"/><stop offset="0.1752" stop-color="#0478ff"/><stop offset="0.2453" stop-color="#2e6eff"/><stop offset="0.2593" stop-color="#3f6cff"/><stop offset="0.2827" stop-color="#5f67ff"/><stop offset="0.3621" stop-color="#9459ff"/><stop offset="0.3995" stop-color="#9e4efb"/><stop offset="0.6098" stop-color="#ab02ca"/><stop offset="0.9977" stop-color="#ba007d"/></linearGradient><linearGradient id="g171"><stop offset="0.002404" stop-color="#0086ff"/><stop offset="0.1803" stop-color="#0474ff"/><stop offset="0.2476" stop-color="#2e6aff"/><stop offset="0.2716" stop-color="#5465ff"/><stop offset="0.3389" stop-color="#8654ff"/><stop offset="0.3918" stop-color="#9c4cfd"/><stop offset="0.6034" stop-color="#a902cd"/><stop offset="0.9976" stop-color="#b80081"/></linearGradient><linearGradient id="g172"><stop offset="0.002475" stop-color="#0083ff"/><stop offset="0.1856" stop-color="#046fff"/><stop offset="0.2401" stop-color="#2567ff"/><stop offset="0.2649" stop-color="#4d63ff"/><stop offset="0.3243" stop-color="#7c54ff"/><stop offset="0.3589" stop-color="#8e4dff"/><stop offset="0.3985" stop-color="#9b45fc"/><stop offset="0.5965" stop-color="#a702d1"/><stop offset="0.9975" stop-color="#b50085"/></linearGradient><linearGradient id="g173"><stop offset="0.002564" stop-color="#0080ff"/><stop offset="0.1872" stop-color="#026cff"/><stop offset="0.2385" stop-color="#2164ff"/><stop offset="0.259" stop-color="#4660ff"/><stop offset="0.3154" stop-color="#7453ff"/><stop offset="0.3513" stop-color="#8847ff"/><stop offset="0.3974" stop-color="#9a42fd"/><stop offset="0.5923" stop-color="#a402d4"/><stop offset="0.9974" stop-color="#b3008a"/></linearGradient><linearGradient id="g174"><stop offset="0.002632" stop-color="#007dff"/><stop offset="0.2026" stop-color="#0466ff"/><stop offset="0.2342" stop-color="#1861ff"/><stop offset="0.2553" stop-color="#3e5dff"/><stop offset="0.3079" stop-color="#6c51ff"/><stop offset="0.35" stop-color="#8440ff"/><stop offset="0.4026" stop-color="#983dfd"/><stop offset="0.5868" stop-color="#a202d7"/><stop offset="0.9974" stop-color="#b1008e"/></linearGradient><linearGradient id="g175"><stop offset="0.002717" stop-color="#007aff"/><stop offset="0.2092" stop-color="#0461ff"/><stop offset="0.231" stop-color="#155eff"/><stop offset="0.2473" stop-color="#355bff"/><stop offset="0.2908" stop-color="#5f51ff"/><stop offset="0.3397" stop-color="#7d3dff"/><stop offset="0.4049" stop-color="#9737fd"/><stop offset="0.5788" stop-color="#a001da"/><stop offset="0.9973" stop-color="#af0092"/></linearGradient><linearGradient id="g176"><stop offset="0.002809" stop-color="#0076ff"/><stop offset="0.2107" stop-color="#015dff"/><stop offset="0.2275" stop-color="#155aff"/><stop offset="0.2444" stop-color="#3557ff"/><stop offset="0.2949" stop-color="#614cff"/><stop offset="0.3511" stop-color="#8133ff"/><stop offset="0.4073" stop-color="#9532fd"/><stop offset="0.5758" stop-color="#9e01dd"/><stop offset="0.9972" stop-color="#ac0096"/></linearGradient><linearGradient id="g177"><stop offset="0.002907" stop-color="#0073ff"/><stop offset="0.2122" stop-color="#0459ff"/><stop offset="0.2238" stop-color="#1757ff"/><stop offset="0.2471" stop-color="#3b52ff"/><stop offset="0.311" stop-color="#6b41ff"/><stop offset="0.3459" stop-color="#7d2cff"/><stop offset="0.4041" stop-color="#942ffe"/><stop offset="0.5669" stop-color="#9b01e0"/><stop offset="0.9971" stop-color="#aa009a"/></linearGradient><linearGradient id="g178"><stop offset="0.003012" stop-color="#006fff"/><stop offset="0.2018" stop-color="#0355ff"/><stop offset="0.2139" stop-color="#1053ff"/><stop offset="0.244" stop-color="#3a4fff"/><stop offset="0.3163" stop-color="#6c3aff"/><stop offset="0.3464" stop-color="#7b26ff"/><stop offset="0.4066" stop-color="#922afe"/><stop offset="0.5572" stop-color="#9901e3"/><stop offset="0.997" stop-color="#a8009e"/></linearGradient><linearGradient id="g179"><stop offset="0.003125" stop-color="#006aff"/><stop offset="0.1969" stop-color="#0450ff"/><stop offset="0.2281" stop-color="#2d4cff"/><stop offset="0.2969" stop-color="#613cff"/><stop offset="0.3344" stop-color="#7426ff"/><stop offset="0.3469" stop-color="#7a20ff"/><stop offset="0.4094" stop-color="#9124fe"/><stop offset="0.5469" stop-color="#9701e7"/><stop offset="0.9969" stop-color="#a600a2"/></linearGradient><linearGradient id="g180"><stop offset="0.003247" stop-color="#06f"/><stop offset="0.1851" stop-color="#044dff"/><stop offset="0.2435" stop-color="#3c44ff"/><stop offset="0.3214" stop-color="#6d2bff"/><stop offset="0.3409" stop-color="#7619ff"/><stop offset="0.4123" stop-color="#8f1ffe"/><stop offset="0.5357" stop-color="#9501ea"/><stop offset="0.9968" stop-color="#a400a6"/></linearGradient><linearGradient id="g181"><stop offset="0.003378" stop-color="#0061ff"/><stop offset="0.1791" stop-color="#0448ff"/><stop offset="0.2128" stop-color="#2740ff"/><stop offset="0.2872" stop-color="#5a35ff"/><stop offset="0.3277" stop-color="#6e1fff"/><stop offset="0.3412" stop-color="#7413ff"/><stop offset="0.4155" stop-color="#8e1afe"/><stop offset="0.5304" stop-color="#9200ec"/><stop offset="0.9966" stop-color="#a100aa"/></linearGradient><linearGradient id="g182"><stop offset="0.003521" stop-color="#005dff"/><stop offset="0.1655" stop-color="#0345ff"/><stop offset="0.2148" stop-color="#2a3aff"/><stop offset="0.2852" stop-color="#5830ff"/><stop offset="0.3275" stop-color="#6d18ff"/><stop offset="0.3415" stop-color="#730cff"/><stop offset="0.419" stop-color="#8d15fe"/><stop offset="0.5176" stop-color="#9000ef"/><stop offset="0.9965" stop-color="#9f00ae"/></linearGradient><linearGradient id="g183"><stop offset="0.003676" stop-color="#0059ff"/><stop offset="0.1581" stop-color="#043fff"/><stop offset="0.1875" stop-color="#1c35ff"/><stop offset="0.2757" stop-color="#512eff"/><stop offset="0.3199" stop-color="#6818ff"/><stop offset="0.3346" stop-color="#6e07ff"/><stop offset="0.4228" stop-color="#8b0ffe"/><stop offset="0.511" stop-color="#8e00f2"/><stop offset="0.9963" stop-color="#9d00b2"/></linearGradient><linearGradient id="g184"><stop offset="0.003846" stop-color="#0054ff"/><stop offset="0.1423" stop-color="#033cff"/><stop offset="0.1885" stop-color="#1f2fff"/><stop offset="0.2731" stop-color="#4e2aff"/><stop offset="0.3192" stop-color="#6714ff"/><stop offset="0.3346" stop-color="#6d01ff"/><stop offset="0.4269" stop-color="#8a0afe"/><stop offset="0.5115" stop-color="#8c00f3"/><stop offset="0.9962" stop-color="#9b00b6"/></linearGradient><linearGradient id="g185"><stop offset="0.004032" stop-color="#004eff"/><stop offset="0.1331" stop-color="#0536ff"/><stop offset="0.1734" stop-color="#1929ff"/><stop offset="0.2621" stop-color="#4527ff"/><stop offset="0.3105" stop-color="#6117ff"/><stop offset="0.3347" stop-color="#6b01ff"/><stop offset="0.4315" stop-color="#8805fe"/><stop offset="0.6411" stop-color="#8f00e4"/><stop offset="0.996" stop-color="#9800ba"/></linearGradient><linearGradient id="g186"><stop offset="0.004237" stop-color="#0048ff"/><stop offset="0.1144" stop-color="#0232ff"/><stop offset="0.1568" stop-color="#1424ff"/><stop offset="0.25" stop-color="#3b24ff"/><stop offset="0.3008" stop-color="#5c18ff"/><stop offset="0.3347" stop-color="#6a00ff"/><stop offset="0.4364" stop-color="#8701fe"/><stop offset="0.9958" stop-color="#9600be"/></linearGradient><linearGradient id="g187"><stop offset="0.004505" stop-color="#003fff"/><stop offset="0.09459" stop-color="#052dff"/><stop offset="0.1306" stop-color="#101eff"/><stop offset="0.2297" stop-color="#3221ff"/><stop offset="0.2838" stop-color="#5618ff"/><stop offset="0.3288" stop-color="#6800ff"/><stop offset="0.4369" stop-color="#8600fe"/><stop offset="0.9955" stop-color="#9400c2"/></linearGradient><linearGradient id="g188"><stop offset="0.004762" stop-color="#0037ff"/><stop offset="0.08095" stop-color="#0626ff"/><stop offset="0.1095" stop-color="#0c19ff"/><stop offset="0.2238" stop-color="#2f1dff"/><stop offset="0.2714" stop-color="#5017ff"/><stop offset="0.3095" stop-color="#6009ff"/><stop offset="0.3286" stop-color="#6700ff"/><stop offset="0.4429" stop-color="#8400fe"/><stop offset="0.9952" stop-color="#9200c6"/></linearGradient><linearGradient id="g189"><stop offset="0.005051" stop-color="#0030ff"/><stop offset="0.06566" stop-color="#041dff"/><stop offset="0.1061" stop-color="#0b12ff"/><stop offset="0.2071" stop-color="#2619ff"/><stop offset="0.2677" stop-color="#4f14ff"/><stop offset="0.3283" stop-color="#6500ff"/><stop offset="0.4495" stop-color="#8300fe"/><stop offset="0.9949" stop-color="#9000ca"/></linearGradient><linearGradient id="g190"><stop offset="0.005376" stop-color="#0025ff"/><stop offset="0.03763" stop-color="#011aff"/><stop offset="0.06989" stop-color="#050dff"/><stop offset="0.1989" stop-color="#2215ff"/><stop offset="0.2419" stop-color="#4314ff"/><stop offset="0.3065" stop-color="#5d04ff"/><stop offset="0.457" stop-color="#8200fe"/><stop offset="0.9946" stop-color="#8d00cd"/></linearGradient><linearGradient id="g191"><stop offset="0.005814" stop-color="#010fff"/><stop offset="0.06395" stop-color="#0608ff"/><stop offset="0.1802" stop-color="#1f11ff"/><stop offset="0.2267" stop-color="#4111ff"/><stop offset="0.3314" stop-color="#6500ff"/><stop offset="0.4593" stop-color="#8000fe"/><stop offset="0.9942" stop-color="#8b00d1"/></linearGradient><linearGradient id="g192"><stop offset="0.00625" stop-color="#0003ff"/><stop offset="0.1562" stop-color="#160dff"/><stop offset="0.2188" stop-color="#400eff"/><stop offset="0.3312" stop-color="#6400ff"/><stop offset="0.4688" stop-color="#7f00fe"/><stop offset="0.9938" stop-color="#8900d5"/></linearGradient><linearGradient id="g193"><stop offset="0.006944" stop-color="#0101ff"/><stop offset="0.1319" stop-color="#120aff"/><stop offset="0.1736" stop-color="#310bff"/><stop offset="0.2708" stop-color="#5504ff"/><stop offset="0.4792" stop-color="#7e00fe"/><stop offset="0.9931" stop-color="#8700da"/></linearGradient><linearGradient id="g194"><stop offset="0.007576" stop-color="#00f"/><stop offset="0.09848" stop-color="#0a05ff"/><stop offset="0.1742" stop-color="#3708ff"/><stop offset="0.3409" stop-color="#6400ff"/><stop offset="0.5076" stop-color="#7d00fd"/><stop offset="0.9924" stop-color="#8400de"/></linearGradient><linearGradient id="g195"><stop offset="0.008475" stop-color="#00f"/><stop offset="0.05932" stop-color="#0602ff"/><stop offset="0.1271" stop-color="#2f05ff"/><stop offset="0.2797" stop-color="#5900ff"/><stop offset="0.5" stop-color="#7b00fe"/><stop offset="0.9915" stop-color="#8200e2"/></linearGradient><linearGradient id="g196"><stop offset="0.009615" stop-color="#0c00ff"/><stop offset="0.02885" stop-color="#0c00ff"/><stop offset="0.04808" stop-color="#1d01ff"/><stop offset="0.1635" stop-color="#4403ff"/><stop offset="0.4712" stop-color="#7800ff"/><stop offset="0.9904" stop-color="#8000e6"/></linearGradient><linearGradient id="g197"><stop offset="0.01136" stop-color="#3101ff"/><stop offset="0.05682" stop-color="#3801ff"/><stop offset="0.3523" stop-color="#6900ff"/><stop offset="0.5341" stop-color="#7900fd"/><stop offset="0.9886" stop-color="#7e00ea"/></linearGradient><linearGradient id="g198"><stop offset="0.01351" stop-color="#4000ff"/><stop offset="0.5" stop-color="#70f"/><stop offset="0.9865" stop-color="#7b00ee"/></linearGradient><linearGradient id="g199"><stop offset="0.01724" stop-color="#4f00ff"/><stop offset="0.5345" stop-color="#7600fe"/><stop offset="0.9828" stop-color="#7900f2"/></linearGradient><linearGradient id="g200"><stop offset="0.02273" stop-color="#5800ff"/><stop offset="0.6136" stop-color="#7500fd"/><stop offset="0.9773" stop-color="#7700f6"/></linearGradient><linearGradient id="g201"><stop offset="0.03571" stop-color="#6300ff"/><stop offset="0.6786" stop-color="#7400fd"/><stop offset="0.9643" stop-color="#7500fa"/></linearGradient><linearGradient id="g202"><stop offset="0.08333" stop-color="#6d00ff"/><stop offset="0.9167" stop-color="#7300fe"/></linearGradient>
</defs>
<rect width="550" height="530" fill="#fff"/>
<path d="M129.94 14.80V453.40M187.08 14.80V453.40M244.22 14.80V453.40M301.36 14.80V453.40M358.50 14.80V453.40M415.64 14.80V453.40M472.78 14.80V453.40" stroke="#262626" stroke-opacity="0.15" stroke-width="1.4" fill="none"/>
<path d="M73.30 404.86H529.30M73.30 356.12H529.30M73.30 307.38H529.30M73.30 258.64H529.30M73.30 209.90H529.30M73.30 161.16H529.30M73.30 112.42H529.30M73.30 63.68H529.30" stroke="#262626" stroke-opacity="0.15" stroke-width="1.4" fill="none"/>
<g clip-path="url(#hs)" shape-rendering="crispEdges">
<rect x="112" y="46" width="14" height="2" fill="url(#g0)"/><rect x="105" y="48" width="30" height="2" fill="url(#g1)"/><rect x="101" y="50" width="40" height="2" fill="url(#g2)"/><rect x="99" y="52" width="47" height="2" fill="url(#g3)"/><rect x="96" y="54" width="55" height="2" fill="url(#g4)"/><rect x="94" y="56" width="61" height="2" fill="url(#g5)"/><rect x="93" y="58" width="67" height="2" fill="url(#g6)"/><rect x="91" y="60" width="73" height="2" fill="url(#g7)"/><rect x="90" y="62" width="78" height="2" fill="url(#g8)"/><rect x="89" y="64" width="82" height="2" fill="url(#g9)"/><rect x="87" y="66" width="88" height="2" fill="url(#g10)"/><rect x="86" y="68" width="93" height="2" fill="url(#g11)"/><rect x="85" y="70" width="97" height="2" fill="url(#g12)"/><rect x="85" y="72" width="101" height="2" fill="url(#g13)"/><rect x="84" y="74" width="105" height="2" fill="url(#g14)"/><rect x="83" y="76" width="109" height="2" fill="url(#g15)"/><rect x="82" y="78" width="113" height="2" fill="url(#g16)"/><rect x="82" y="80" width="116" height="2" fill="url(#g17)"/><rect x="81" y="82" width="120" height="2" fill="url(#g18)"/><rect x="80" y="84" width="124" height="2" fill="url(#g19)"/><rect x="80" y="86" width="127" height="2" fill="url(#g20)"/><rect x="79" y="88" width="131" height="2" fill="url(#g21)"/><rect x="79" y="90" width="134" height="2" fill="url(#g22)"/><rect x="78" y="92" width="138" height="2" fill="url(#g23)"/><rect x="78" y="94" width="141" height="2" fill="url(#g24)"/><rect x="78" y="96" width="144" height="2" fill="url(#g25)"/><rect x="77" y="98" width="147" height="2" fill="url(#g26)"/><rect x="77" y="100" width="150" height="2" fill="url(#g27)"/><rect x="77" y="102" width="153" height="2" fill="url(#g28)"/><rect x="76" y="104" width="156" height="2" fill="url(#g29)"/><rect x="76" y="106" width="159" height="2" fill="url(#g30)"/><rect x="76" y="108" width="162" height="2" fill="url(#g31)"/><rect x="76" y="110" width="164" height="2" fill="url(#g32)"/><rect x="75" y="112" width="168" height="2" fill="url(#g33)"/><rect x="75" y="114" width="170" height="2" fill="url(#g34)"/><rect x="75" y="116" width="173" height="2" fill="url(#g35)"/><rect x="75" y="118" width="175" height="2" fill="url(#g36)"/><rect x="75" y="120" width="178" height="2" fill="url(#g37)"/><rect x="74" y="122" width="181" height="2" fill="url(#g38)"/><rect x="74" y="124" width="184" height="2" fill="url(#g39)"/><rect x="74" y="126" width="186" height="2" fill="url(#g40)"/><rect x="74" y="128" width="189" height="2" fill="url(#g41)"/><rect x="74" y="130" width="191" height="2" fill="url(#g42)"/><rect x="74" y="132" width="194" height="2" fill="url(#g43)"/><rect x="74" y="134" width="196" height="2" fill="url(#g44)"/><rect x="74" y="136" width="199" height="2" fill="url(#g45)"/><rect x="74" y="138" width="201" height="2" fill="url(#g46)"/><rect x="74" y="140" width="204" height="2" fill="url(#g47)"/><rect x="74" y="142" width="206" height="2" fill="url(#g48)"/><rect x="74" y="144" width="209" height="2" fill="url(#g49)"/><rect x="74" y="146" width="211" height="2" fill="url(#g50)"/><rect x="74" y="148" width="213" height="2" fill="url(#g51)"/><rect x="74" y="150" width="216" height="2" fill="url(#g52)"/><rect x="74" y="152" width="218" height="2" fill="url(#g53)"/><rect x="74" y="154" width="221" height="2" fill="url(#g54)"/><rect x="74" y="156" width="223" height="2" fill="url(#g55)"/><rect x="74" y="158" width="225" height="2" fill="url(#g56)"/><rect x="74" y="160" width="228" height="2" fill="url(#g57)"/><rect x="74" y="162" width="230" height="2" fill="url(#g58)"/><rect x="74" y="164" width="233" height="2" fill="url(#g59)"/><rect x="75" y="166" width="234" height="2" fill="url(#g60)"/><rect x="75" y="168" width="236" height="2" fill="url(#g61)"/><rect x="75" y="170" width="239" height="2" fill="url(#g62)"/><rect x="75" y="172" width="241" height="2" fill="url(#g63)"/><rect x="75" y="174" width="243" height="2" fill="url(#g64)"/><rect x="75" y="176" width="246" height="2" fill="url(#g65)"/><rect x="75" y="178" width="248" height="2" fill="url(#g66)"/><rect x="75" y="180" width="251" height="2" fill="url(#g67)"/><rect x="76" y="182" width="252" height="2" fill="url(#g68)"/><rect x="76" y="184" width="254" height="2" fill="url(#g69)"/><rect x="76" y="186" width="257" height="2" fill="url(#g70)"/><rect x="76" y="188" width="259" height="2" fill="url(#g71)"/><rect x="76" y="190" width="261" height="2" fill="url(#g72)"/><rect x="77" y="192" width="263" height="2" fill="url(#g73)"/><rect x="77" y="194" width="265" height="2" fill="url(#g74)"/><rect x="77" y="196" width="267" height="2" fill="url(#g75)"/><rect x="77" y="198" width="270" height="2" fill="url(#g76)"/><rect x="77" y="200" width="272" height="2" fill="url(#g77)"/><rect x="78" y="202" width="273" height="2" fill="url(#g78)"/><rect x="78" y="204" width="276" height="2" fill="url(#g79)"/><rect x="78" y="206" width="278" height="2" fill="url(#g80)"/><rect x="78" y="208" width="281" height="2" fill="url(#g81)"/><rect x="79" y="210" width="282" height="2" fill="url(#g82)"/><rect x="79" y="212" width="284" height="2" fill="url(#g83)"/><rect x="79" y="214" width="287" height="2" fill="url(#g84)"/><rect x="79" y="216" width="289" height="2" fill="url(#g85)"/><rect x="80" y="218" width="290" height="2" fill="url(#g86)"/><rect x="80" y="220" width="293" height="2" fill="url(#g87)"/><rect x="80" y="222" width="295" height="2" fill="url(#g88)"/><rect x="81" y="224" width="296" height="2" fill="url(#g89)"/><rect x="81" y="226" width="299" height="2" fill="url(#g90)"/><rect x="81" y="228" width="301" height="2" fill="url(#g91)"/><rect x="82" y="230" width="302" height="2" fill="url(#g92)"/><rect x="82" y="232" width="305" height="2" fill="url(#g93)"/><rect x="82" y="234" width="307" height="2" fill="url(#g94)"/><rect x="82" y="236" width="309" height="2" fill="url(#g95)"/><rect x="83" y="238" width="311" height="2" fill="url(#g96)"/><rect x="83" y="240" width="313" height="2" fill="url(#g97)"/><rect x="83" y="242" width="316" height="2" fill="url(#g98)"/><rect x="84" y="244" width="317" height="2" fill="url(#g99)"/><rect x="84" y="246" width="319" height="2" fill="url(#g100)"/><rect x="85" y="248" width="321" height="2" fill="url(#g101)"/><rect x="85" y="250" width="323" height="2" fill="url(#g102)"/><rect x="85" y="252" width="325" height="2" fill="url(#g103)"/><rect x="86" y="254" width="327" height="2" fill="url(#g104)"/><rect x="86" y="256" width="329" height="2" fill="url(#g105)"/><rect x="86" y="258" width="331" height="2" fill="url(#g106)"/><rect x="87" y="260" width="333" height="2" fill="url(#g107)"/><rect x="87" y="262" width="335" height="2" fill="url(#g108)"/><rect x="87" y="264" width="337" height="2" fill="url(#g109)"/><rect x="88" y="266" width="339" height="2" fill="url(#g110)"/><rect x="88" y="268" width="341" height="2" fill="url(#g111)"/><rect x="89" y="270" width="342" height="2" fill="url(#g112)"/><rect x="89" y="272" width="345" height="2" fill="url(#g113)"/><rect x="90" y="274" width="346" height="2" fill="url(#g114)"/><rect x="90" y="276" width="349" height="2" fill="url(#g115)"/><rect x="90" y="278" width="351" height="2" fill="url(#g116)"/><rect x="91" y="280" width="352" height="2" fill="url(#g117)"/><rect x="91" y="282" width="355" height="2" fill="url(#g118)"/><rect x="92" y="284" width="356" height="2" fill="url(#g119)"/><rect x="92" y="286" width="358" height="2" fill="url(#g120)"/><rect x="93" y="288" width="360" height="2" fill="url(#g121)"/><rect x="93" y="290" width="362" height="2" fill="url(#g122)"/><rect x="94" y="292" width="363" height="2" fill="url(#g123)"/><rect x="94" y="294" width="366" height="2" fill="url(#g124)"/><rect x="94" y="296" width="368" height="2" fill="url(#g125)"/><rect x="95" y="298" width="369" height="2" fill="url(#g126)"/><rect x="95" y="300" width="372" height="2" fill="url(#g127)"/><rect x="96" y="302" width="373" height="2" fill="url(#g128)"/><rect x="96" y="304" width="376" height="2" fill="url(#g129)"/><rect x="97" y="306" width="377" height="2" fill="url(#g130)"/><rect x="97" y="308" width="379" height="2" fill="url(#g131)"/><rect x="98" y="310" width="381" height="2" fill="url(#g132)"/><rect x="98" y="312" width="383" height="2" fill="url(#g133)"/><rect x="99" y="314" width="384" height="2" fill="url(#g134)"/><rect x="99" y="316" width="387" height="2" fill="url(#g135)"/><rect x="100" y="318" width="388" height="2" fill="url(#g136)"/><rect x="100" y="320" width="390" height="2" fill="url(#g137)"/><rect x="101" y="322" width="392" height="2" fill="url(#g138)"/><rect x="102" y="324" width="391" height="2" fill="url(#g139)"/><rect x="102" y="326" width="386" height="2" fill="url(#g140)"/><rect x="103" y="328" width="380" height="2" fill="url(#g141)"/><rect x="103" y="330" width="375" height="2" fill="url(#g142)"/><rect x="104" y="332" width="369" height="2" fill="url(#g143)"/><rect x="104" y="334" width="364" height="2" fill="url(#g144)"/><rect x="105" y="336" width="358" height="2" fill="url(#g145)"/><rect x="106" y="338" width="352" height="2" fill="url(#g146)"/><rect x="106" y="340" width="347" height="2" fill="url(#g147)"/><rect x="107" y="342" width="341" height="2" fill="url(#g148)"/><rect x="107" y="344" width="336" height="2" fill="url(#g149)"/><rect x="108" y="346" width="330" height="2" fill="url(#g150)"/><rect x="109" y="348" width="324" height="2" fill="url(#g151)"/><rect x="109" y="350" width="319" height="2" fill="url(#g152)"/><rect x="110" y="352" width="312" height="2" fill="url(#g153)"/><rect x="111" y="354" width="306" height="2" fill="url(#g154)"/><rect x="111" y="356" width="301" height="2" fill="url(#g155)"/><rect x="112" y="358" width="295" height="2" fill="url(#g156)"/><rect x="113" y="360" width="289" height="2" fill="url(#g157)"/><rect x="113" y="362" width="284" height="2" fill="url(#g158)"/><rect x="114" y="364" width="278" height="2" fill="url(#g159)"/><rect x="115" y="366" width="272" height="2" fill="url(#g160)"/><rect x="116" y="368" width="266" height="2" fill="url(#g161)"/><rect x="116" y="370" width="261" height="2" fill="url(#g162)"/><rect x="117" y="372" width="255" height="2" fill="url(#g163)"/><rect x="118" y="374" width="249" height="2" fill="url(#g164)"/><rect x="119" y="376" width="243" height="2" fill="url(#g165)"/><rect x="120" y="378" width="237" height="2" fill="url(#g166)"/><rect x="120" y="380" width="232" height="2" fill="url(#g167)"/><rect x="121" y="382" width="226" height="2" fill="url(#g168)"/><rect x="122" y="384" width="220" height="2" fill="url(#g169)"/><rect x="123" y="386" width="214" height="2" fill="url(#g170)"/><rect x="124" y="388" width="208" height="2" fill="url(#g171)"/><rect x="125" y="390" width="202" height="2" fill="url(#g172)"/><rect x="126" y="392" width="195" height="2" fill="url(#g173)"/><rect x="126" y="394" width="190" height="2" fill="url(#g174)"/><rect x="127" y="396" width="184" height="2" fill="url(#g175)"/><rect x="128" y="398" width="178" height="2" fill="url(#g176)"/><rect x="129" y="400" width="172" height="2" fill="url(#g177)"/><rect x="130" y="402" width="166" height="2" fill="url(#g178)"/><rect x="131" y="404" width="160" height="2" fill="url(#g179)"/><rect x="132" y="406" width="154" height="2" fill="url(#g180)"/><rect x="133" y="408" width="148" height="2" fill="url(#g181)"/><rect x="134" y="410" width="142" height="2" fill="url(#g182)"/><rect x="135" y="412" width="136" height="2" fill="url(#g183)"/><rect x="136" y="414" width="130" height="2" fill="url(#g184)"/><rect x="137" y="416" width="124" height="2" fill="url(#g185)"/><rect x="138" y="418" width="118" height="2" fill="url(#g186)"/><rect x="140" y="420" width="111" height="2" fill="url(#g187)"/><rect x="141" y="422" width="105" height="2" fill="url(#g188)"/><rect x="142" y="424" width="99" height="2" fill="url(#g189)"/><rect x="143" y="426" width="93" height="2" fill="url(#g190)"/><rect x="145" y="428" width="86" height="2" fill="url(#g191)"/><rect x="146" y="430" width="80" height="2" fill="url(#g192)"/><rect x="148" y="432" width="72" height="2" fill="url(#g193)"/><rect x="149" y="434" width="66" height="2" fill="url(#g194)"/><rect x="151" y="436" width="59" height="2" fill="url(#g195)"/><rect x="153" y="438" width="52" height="2" fill="url(#g196)"/><rect x="156" y="440" width="44" height="2" fill="url(#g197)"/><rect x="158" y="442" width="37" height="2" fill="url(#g198)"/><rect x="161" y="444" width="29" height="2" fill="url(#g199)"/><rect x="163" y="446" width="22" height="2" fill="url(#g200)"/><rect x="166" y="448" width="14" height="2" fill="url(#g201)"/><rect x="169" y="450" width="6" height="2" fill="url(#g202)"/>
</g>
<path d="M172.28 451.16 L172.28 451.15 L172.27 451.15 L172.26 451.15 L172.24 451.15 L172.22 451.16 L172.20 451.17 L172.18 451.19 L172.16 451.20 L172.13 451.21 L172.11 451.21 L172.09 451.21 L172.07 451.21 L172.05 451.21 L172.02 451.21 L172.00 451.21 L171.96 451.22 L171.93 451.23 L171.90 451.24 L171.86 451.25 L171.82 451.26 L171.79 451.27 L171.76 451.27 L171.72 451.27 L171.69 451.26 L171.65 451.26 L171.61 451.26 L171.57 451.26 L171.52 451.26 L171.47 451.26 L171.42 451.26 L171.37 451.26 L171.32 451.27 L171.26 451.27 L171.20 451.27 L171.14 451.26 L171.07 451.25 L171.00 451.22 L170.92 451.20 L170.84 451.16 L170.74 451.11 L170.63 451.06 L170.51 451.00 L170.38 450.93 L170.25 450.86 L170.11 450.77 L169.97 450.68 L169.82 450.59 L169.66 450.48 L169.49 450.36 L169.31 450.24 L169.11 450.10 L168.89 449.94 L168.66 449.78 L168.42 449.60 L168.17 449.41 L167.90 449.21 L167.63 448.99 L167.35 448.77 L167.05 448.53 L166.74 448.29 L166.41 448.03 L166.06 447.77 L165.68 447.49 L165.28 447.19 L164.85 446.87 L164.39 446.53 L163.90 446.17 L163.39 445.79 L162.85 445.39 L162.28 444.97 L161.70 444.54 L161.09 444.08 L160.45 443.60 L159.78 443.09 L159.08 442.54 L158.34 441.94 L157.57 441.30 L156.77 440.62 L155.94 439.89 L155.08 439.12 L154.20 438.31 L153.28 437.43 L152.32 436.46 L151.31 435.38 L150.22 434.15 L149.07 432.77 L147.84 431.21 L146.53 429.47 L145.16 427.54 L143.71 425.43 L142.20 423.11 L140.62 420.57 L138.96 417.77 L137.23 414.68 L135.43 411.29 L133.53 407.57 L131.55 403.48 L129.47 399.03 L127.28 394.18 L124.97 388.92 L122.54 383.23 L120.00 377.10 L117.39 370.49 L114.73 363.39 L112.06 355.78 L109.38 347.64 L106.71 338.96 L104.05 329.77 L101.39 320.05 L98.74 309.82 L96.10 299.08 L93.50 287.91 L90.97 276.37 L88.53 264.52 L86.23 252.45 L84.08 240.22 L82.12 227.90 L80.35 215.57 L78.80 203.31 L77.49 191.18 L76.42 179.27 L75.63 167.60 L75.12 156.22 L74.92 145.15 L75.03 134.45 L75.47 124.14 L76.26 114.28 L77.40 104.93 L78.89 96.13 L80.74 87.95 L82.96 80.44 L85.53 73.64 L88.41 67.57 L91.58 62.29 L95.03 57.83 L98.71 54.21 L102.61 51.38 L106.68 49.31 L110.91 47.94 L115.26 47.21 L119.69 47.07 L124.21 47.44 L128.78 48.26 L133.40 49.44 L138.05 50.91 L142.72 52.60 L147.39 54.46 L152.04 56.47 L156.64 58.60 L161.20 60.80 L165.68 63.06 L170.09 65.38 L174.45 67.74 L178.76 70.17 L183.02 72.65 L187.26 75.19 L191.47 77.80 L195.66 80.46 L199.83 83.18 L203.99 85.95 L208.15 88.78 L212.29 91.66 L216.43 94.59 L220.56 97.56 L224.68 100.58 L228.78 103.63 L232.88 106.72 L236.97 109.84 L241.05 112.99 L245.13 116.17 L249.21 119.38 L253.29 122.61 L257.37 125.87 L261.45 129.15 L265.53 132.45 L269.62 135.77 L273.72 139.11 L277.81 142.47 L281.90 145.84 L285.99 149.22 L290.07 152.61 L294.14 156.01 L298.21 159.41 L302.27 162.82 L306.33 166.23 L310.39 169.64 L314.45 173.04 L318.50 176.45 L322.54 179.85 L326.56 183.24 L330.56 186.63 L334.55 190.00 L338.52 193.37 L342.46 196.72 L346.39 200.05 L350.29 203.37 L354.17 206.67 L358.02 209.95 L361.85 213.20 L365.64 216.43 L369.41 219.63 L373.14 222.81 L376.83 225.95 L380.48 229.06 L384.10 232.13 L387.67 235.15 L391.20 238.14 L394.67 241.08 L398.10 243.98 L401.47 246.84 L404.78 249.66 L408.03 252.43 L411.20 255.14 L414.29 257.78 L417.30 260.35 L420.21 262.82 L423.03 265.22 L425.78 267.55 L428.45 269.82 L431.07 272.04 L433.63 274.22 L436.13 276.34 L438.56 278.41 L440.91 280.41 L443.18 282.33 L445.36 284.17 L447.45 285.93 L449.46 287.62 L451.39 289.25 L453.24 290.81 L455.01 292.32 L456.72 293.77 L458.35 295.16 L459.92 296.50 L461.41 297.78 L462.83 299.00 L464.20 300.16 L465.49 301.27 L466.74 302.33 L467.92 303.33 L469.06 304.29 L470.14 305.21 L471.18 306.08 L472.18 306.92 L473.12 307.72 L474.03 308.49 L474.89 309.23 L475.72 309.94 L476.52 310.62 L477.29 311.28 L478.04 311.92 L478.76 312.53 L479.46 313.13 L480.13 313.70 L480.78 314.25 L481.40 314.78 L481.99 315.29 L482.56 315.78 L483.11 316.25 L483.64 316.69 L484.14 317.11 L484.62 317.51 L485.08 317.89 L485.51 318.25 L485.92 318.59 L486.31 318.91 L486.67 319.22 L487.01 319.51 L487.33 319.79 L487.64 320.05 L487.93 320.30 L488.20 320.54 L488.47 320.76 L488.71 320.97 L488.95 321.17 L489.17 321.36 L489.38 321.54 L489.58 321.71 L489.76 321.86 L489.92 322.00 L490.07 322.13 L490.20 322.24 L490.32 322.35 L490.44 322.44 L490.55 322.54 L490.66 322.63 L490.77 322.72 L490.87 322.81 L490.97 322.90 L491.06 322.98 L491.15 323.05 L491.23 323.12 L491.31 323.19 L491.39 323.25 L491.46 323.32 L491.54 323.39 L491.62 323.45 L491.71 323.52 L491.79 323.59 L491.86 323.66 L491.94 323.72 L492.01 323.79 L492.08 323.84 L492.15 323.90 L492.21 323.95 L492.26 324.00 L492.31 324.04 L492.36 324.08 L492.40 324.12 L492.44 324.15 L492.47 324.17 L492.49 324.20 L492.52 324.21 L492.53 324.23 L492.55 324.24 L492.56 324.26 L492.58 324.27 L492.59 324.28 L492.60 324.28 L492.61 324.29 Z" fill="none" stroke="#000" stroke-width="1.0" stroke-linejoin="round"/>
<g fill="none" stroke-linejoin="round">
<polygon points="477.35,311.28 169.94,65.14 147.65,431.18" stroke="#000" stroke-width="2.7"/>
<polygon points="461.35,297.63 224.22,117.29 158.51,424.36" stroke="#edb120" stroke-width="2.5"/>
<polygon points="470.49,306.89 218.62,108.28 155.08,434.59" stroke="#4dbeee" stroke-width="2.7" stroke-dasharray="7.2 8.2"/>
<polygon points="472.78,310.30 167.08,94.39 153.37,428.26" stroke="#7e2f8e" stroke-width="2.7" stroke-dasharray="7.2 8.2"/>
<polygon points="474.49,310.79 163.60,74.79 154.22,434.10" stroke="#000" stroke-width="2.7" stroke-dasharray="7 2.6 3.2 2.6"/>
</g>
<path d="M129.94 453.40v-4.80M129.94 14.80v4.80M187.08 453.40v-4.80M187.08 14.80v4.80M244.22 453.40v-4.80M244.22 14.80v4.80M301.36 453.40v-4.80M301.36 14.80v4.80M358.50 453.40v-4.80M358.50 14.80v4.80M415.64 453.40v-4.80M415.64 14.80v4.80M472.78 453.40v-4.80M472.78 14.80v4.80M73.30 404.86h4.80M529.30 404.86h-4.80M73.30 356.12h4.80M529.30 356.12h-4.80M73.30 307.38h4.80M529.30 307.38h-4.80M73.30 258.64h4.80M529.30 258.64h-4.80M73.30 209.90h4.80M529.30 209.90h-4.80M73.30 161.16h4.80M529.30 161.16h-4.80M73.30 112.42h4.80M529.30 112.42h-4.80M73.30 63.68h4.80M529.30 63.68h-4.80" stroke="#262626" stroke-width="1.8" fill="none"/>
<rect x="73.3" y="14.8" width="456.00" height="438.60" fill="none" stroke="#262626" stroke-width="2.0"/>
<g fill="#262626" font-size="23" text-anchor="end"><text x="65.3" y="462.60">0</text><text x="65.3" y="413.86">0.1</text><text x="65.3" y="365.12">0.2</text><text x="65.3" y="316.38">0.3</text><text x="65.3" y="267.64">0.4</text><text x="65.3" y="218.90">0.5</text><text x="65.3" y="170.16">0.6</text><text x="65.3" y="121.42">0.7</text><text x="65.3" y="72.68">0.8</text><text x="65.3" y="23.94">0.9</text></g>
<g fill="#262626" font-size="23" text-anchor="middle"><text x="72.80" y="485.20">0</text><text x="129.94" y="485.20">0.1</text><text x="187.08" y="485.20">0.2</text><text x="244.22" y="485.20">0.3</text><text x="301.36" y="485.20">0.4</text><text x="358.50" y="485.20">0.5</text><text x="415.64" y="485.20">0.6</text><text x="472.78" y="485.20">0.7</text><text x="529.92" y="485.20">0.8</text></g>
<g fill="#262626" font-size="25.0" text-anchor="middle">
<text x="301.8" y="519.8">CIE x</text>
<text transform="translate(22.3 234.4) rotate(-90)" x="0" y="0">CIE y</text>
</g>
<rect x="350.1" y="26.0" width="146.90" height="136.00" fill="#fff" stroke="#262626" stroke-width="1.6"/>
<g fill="#000" font-size="21.0"><path d="M354.8 40.30H394.0" stroke="#000" stroke-width="3"/><text x="397.0" y="49.00">Rec. 2020</text><path d="M354.8 67.30H394.0" stroke="#edb120" stroke-width="2.9"/><text x="397.0" y="76.00">DCI-P3</text><path d="M354.8 94.00H394.0" stroke="#4dbeee" stroke-width="3" stroke-dasharray="7.4 8"/><text x="397.0" y="102.70">B/YG</text><path d="M354.8 120.80H394.0" stroke="#7e2f8e" stroke-width="3" stroke-dasharray="7.4 8"/><text x="397.0" y="129.50">B/G/R-v1</text><path d="M354.8 147.30H394.0" stroke="#000" stroke-width="3" stroke-dasharray="7 2.6 3.2 2.6"/><text x="397.0" y="156.00">B/G/R-v2</text></g>
</svg>
</body></html>
